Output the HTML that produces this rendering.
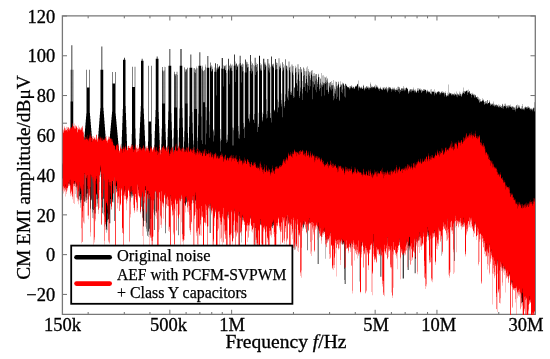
<!DOCTYPE html>
<html><head><meta charset="utf-8"><style>html,body{margin:0;padding:0;background:#fff;overflow:hidden}svg{display:block;filter:blur(0.3px)}</style></head>
<body><svg width="550" height="359" viewBox="0 0 550 359">
<rect width="550" height="359" fill="#fff"/>
<path d="M62.5 294.41h4.5M535.0 294.41h-4.5M62.5 254.64h4.5M535.0 254.64h-4.5M62.5 214.87h4.5M535.0 214.87h-4.5M62.5 175.09h4.5M535.0 175.09h-4.5M62.5 135.32h4.5M535.0 135.32h-4.5M62.5 95.55h4.5M535.0 95.55h-4.5M62.5 55.77h4.5M535.0 55.77h-4.5M62.5 16.00h4.5M535.0 16.00h-4.5M169.85 314.3v-4.5M169.85 16.0v4.5M231.65 314.3v-4.5M231.65 16.0v4.5M375.15 314.3v-4.5M375.15 16.0v4.5M436.95 314.3v-4.5M436.95 16.0v4.5M88.15 314.3v-2.3M88.15 16.0v2.3M124.30 314.3v-2.3M124.30 16.0v2.3M149.95 314.3v-2.3M149.95 16.0v2.3M186.10 314.3v-2.3M186.10 16.0v2.3M199.85 314.3v-2.3M199.85 16.0v2.3M211.75 314.3v-2.3M211.75 16.0v2.3M222.25 314.3v-2.3M222.25 16.0v2.3M293.45 314.3v-2.3M293.45 16.0v2.3M329.60 314.3v-2.3M329.60 16.0v2.3M355.25 314.3v-2.3M355.25 16.0v2.3M391.40 314.3v-2.3M391.40 16.0v2.3M405.15 314.3v-2.3M405.15 16.0v2.3M417.05 314.3v-2.3M417.05 16.0v2.3M427.55 314.3v-2.3M427.55 16.0v2.3M498.75 314.3v-2.3M498.75 16.0v2.3" stroke="#707070" stroke-width="1" fill="none"/>
<path d="M62.5 123.2h4.5" stroke="#707070" stroke-width="1"/>
<clipPath id="c"><rect x="62.5" y="16.0" width="473.0" height="298.90000000000003"/></clipPath>
<path d="M62.4 314.4V15.8H535.3V314.4Z" stroke="#777" stroke-width="1.3" fill="none"/>
<g clip-path="url(#c)">
<path d="M62.50 164.4H62.75V163.3H63.00V165.9H63.25V165.0H63.50V160.6H63.75V164.5H64.00V163.5H64.25V165.9H64.50V164.4H64.75V163.8H65.00V164.8H65.25V164.7H65.50V165.8H65.75V164.9H66.00V162.7H66.25V165.3H66.50V166.5H66.75V164.4H67.00V163.6H67.25V166.0H67.50V164.7H67.75V164.0H68.00V167.5H68.25V167.0H68.50V167.9H68.75V166.6H69.00V166.5H69.25V167.2H69.50V165.5H69.75V165.1H70.00V161.4H70.25V131.6H70.50V69.7H70.75V101.5H71.00V69.7H71.25V101.5H71.50V45.2H71.75H72.00H72.25V101.5H72.50V69.7H72.75V101.5H73.00V69.7H73.25V127.1H73.50V156.9H73.75V165.7H74.00V163.2H74.25V162.9H74.50V164.6H74.75V163.3H75.00V162.7H75.25V161.9H75.50V163.0H75.75V163.7H76.00V165.1H76.25V162.5H76.50V165.7H76.75V164.9H77.00V163.8H77.25V163.2H77.50V162.8H77.75V163.7H78.00V164.3H78.25V163.8H78.50V165.7H78.75V162.8H79.00V161.5H79.25V163.6H79.50V163.1H79.75V162.5H80.00V162.9H80.25V163.9H80.50V161.8H80.75V161.5H81.00V164.0H81.25V164.4H81.50V162.8H81.75V164.9H82.00V163.1H82.25V161.3H82.50V158.3H82.75V155.3H83.00V152.3H83.25V149.3H83.50V146.4H83.75V143.4H84.00V140.4H84.25V137.4H84.50V134.4H84.75V131.4H85.00V128.5H85.25V125.5H85.50V122.5H85.75V119.5H86.00V116.5H86.25V113.5H86.50V69.7H86.75H87.00V87.6H87.25H87.50H87.75H88.00H88.25H88.50H88.75H89.00H89.25V69.7H89.50H89.75V112.9H90.00V115.9H90.25V118.9H90.50V121.9H90.75V124.9H91.00V127.9H91.25V130.8H91.50V133.8H91.75V136.8H92.00V139.8H92.25V142.8H92.50V145.8H92.75V148.7H93.00V151.7H93.25V154.7H93.50V157.7H93.75V160.7H94.00V162.5H94.25V163.5H94.50V165.1H94.75V165.6H95.00V164.3H95.25V162.8H95.50V163.7H95.75V162.1H96.00V161.8H96.25V160.0H96.50V156.8H96.75V153.6H97.00V150.3H97.25V147.1H97.50V143.9H97.75V140.6H98.00V137.4H98.25V134.2H98.50V130.9H98.75V127.7H99.00V124.5H99.25V121.2H99.50V118.0H99.75V114.8H100.00V111.6H100.25V108.3H100.50V69.7H100.75H101.00H101.25H101.50V46.4H101.75H102.00H102.25V69.7H102.50H102.75H103.00H103.25V107.8H103.50V111.1H103.75V114.3H104.00V117.5H104.25V120.8H104.50V124.0H104.75V127.2H105.00V130.5H105.25V133.7H105.50V136.9H105.75V140.1H106.00V143.4H106.25V146.6H106.50V149.8H106.75V153.1H107.00V156.3H107.25V159.5H107.50V161.0H107.75V158.3H108.00V155.5H108.25V152.8H108.50V150.1H108.75V147.3H109.00V144.6H109.25V141.9H109.50V139.1H109.75V136.4H110.00V133.7H110.25V130.9H110.50V128.2H110.75V125.4H111.00V122.7H111.25V120.0H111.50V117.2H111.75V114.5H112.00V111.8H112.25V72.1H112.50H112.75V83.6H113.00H113.25H113.50H113.75H114.00H114.25H114.50H114.75H115.00V72.1H115.25H115.50V113.4H115.75V116.2H116.00V118.9H116.25V121.6H116.50V124.4H116.75V127.1H117.00V129.8H117.25V132.6H117.50V135.3H117.75V138.0H118.00V140.8H118.25V143.5H118.50V146.2H118.75V149.0H119.00V151.7H119.25V154.4H119.50V157.2H119.75V159.9H120.00V160.6H120.25V160.3H120.50V160.5H120.75V162.2H121.00V157.7H121.25V150.8H121.50V143.8H121.75V136.8H122.00V129.9H122.25V122.9H122.50V116.0H122.75V109.0H123.00V59.8H123.25H123.50H123.75H124.00V57.8H124.25H124.50H124.75V59.8H125.00H125.25H125.50V106.1H125.75V113.1H126.00V120.1H126.25V127.0H126.50V134.0H126.75V140.9H127.00V147.9H127.25V154.9H127.50V159.2H127.75V161.1H128.00V162.4H128.25V159.5H128.50V161.8H128.75V161.1H129.00V157.8H129.25V161.5H129.50H129.75V160.5H130.00V163.2H130.25V162.9H130.50V161.1H130.75V160.6H131.00V160.4H131.25V154.0H131.50V144.1H131.75V134.1H132.00V66.7H132.25H132.50V87.0H132.75H133.00H133.25H133.50H133.75H134.00H134.25H134.50H134.75V66.7H135.00H135.25V128.5H135.50V138.5H135.75V148.4H136.00V158.4H136.25V163.5H136.50V161.5H136.75V161.4H137.00V160.7H137.25V161.1H137.50V160.8H137.75V156.7H138.00V158.4H138.25V160.6H138.50V155.1H138.75V149.6H139.00V144.2H139.25V138.7H139.50V133.2H139.75V127.8H140.00V122.3H140.25V116.8H140.50V111.4H140.75V105.9H141.00V60.7H141.25H141.50H141.75V58.8H142.00H142.25H142.50V60.7H142.75H143.00H143.25H143.50V108.4H143.75V113.8H144.00V119.3H144.25V124.8H144.50V130.2H144.75V135.7H145.00V141.2H145.25V146.7H145.50V152.1H145.75V157.6H146.00V160.7H146.25V158.1H146.50V157.5H146.75V160.4H147.00V158.4H147.25V159.0H147.50V159.7H147.75V154.0H148.00V141.6H148.25V65.7H148.50H148.75V121.4H149.00H149.25H149.50H149.75H150.00H150.25H150.50H150.75H151.00V65.7H151.25H151.50V134.0H151.75V146.4H152.00V158.9H152.25V160.2H152.50V157.6H152.75V157.8H153.00V159.4H153.25V157.4H153.50V161.7H153.75V158.7H154.00V151.8H154.25V144.8H154.50V137.9H154.75V130.9H155.00V123.9H155.25V117.0H155.50V110.0H155.75V58.8H156.00H156.25H156.50H156.75V56.6H157.00H157.25H157.50V58.8H157.75H158.00H158.25H158.50V112.1H158.75V119.1H159.00V126.0H159.25V133.0H159.50V139.9H159.75V146.9H160.00V153.9H160.25V158.3H160.50V160.9H160.75V159.0H161.00V152.3H161.25V144.3H161.50V136.4H161.75V128.4H162.00V66.9H162.25H162.50V103.5H162.75V70.6H163.00V103.5H163.25V71.5H163.50V103.5H163.75V70.4H164.00V103.5H164.25V70.6H164.50V103.5H164.75V66.8H165.00V66.9H165.25V123.9H165.50V131.9H165.75V139.8H166.00V147.8H166.25V155.7H166.50V157.7H166.75V160.5H167.00V154.0H167.25V145.4H167.50V136.9H167.75V128.4H168.00V119.9H168.25V111.4H168.50V65.7H168.75H169.00H169.25H169.50V49.0H169.75H170.00H170.25V65.7H170.50H170.75H171.00H171.25V113.3H171.50V121.8H171.75V130.3H172.00V138.8H172.25V147.4H172.50V155.9H172.75V157.3H173.00V155.5H173.25V146.4H173.50V137.4H173.75V128.3H174.00V71.7H174.25H174.50V107.5H174.75V74.3H175.00V107.5H175.25V75.8H175.50V74.2H175.75H176.00V107.5H176.25V73.9H176.50V107.5H176.75V71.7H177.00H177.25V130.0H177.50V74.9H177.75V148.2H178.00V156.6H178.25V156.9H178.50V147.3H178.75V137.6H179.00V128.0H179.25V118.3H179.50V108.6H179.75V65.7H180.00H180.25H180.50V49.0H180.75H181.00H181.25H181.50V65.7H181.75H182.00H182.25V108.1H182.50V117.8H182.75V127.5H183.00V137.1H183.25V146.8H183.50V156.4H183.75V151.6H184.00V141.4H184.25V131.2H184.50V67.7H184.75V67.1H185.00V103.5H185.25V72.0H185.50V68.9H185.75V70.6H186.00V103.5H186.25V70.3H186.50V69.0H186.75V69.3H187.00V103.5H187.25V67.7H187.50H187.75V133.0H188.00V143.2H188.25V153.4H188.50V148.6H188.75V137.8H189.00V127.0H189.25V116.2H189.50V67.7H189.75H190.00H190.25H190.50V54.6H190.75H191.00H191.25V67.7H191.50H191.75H192.00H192.25V112.0H192.50V122.8H192.75V133.6H193.00V144.4H193.25V151.9H193.50V140.6H193.75V68.2H194.00H194.25V67.9H194.50V109.0H194.75V72.2H195.00V109.0H195.25V70.1H195.50V68.9H195.75V73.0H196.00V109.0H196.25V66.4H196.50V109.0H196.75V68.2H197.00H197.25V140.9H197.50V149.5H197.75V137.6H198.00V125.6H198.25V113.7H198.50V65.7H198.75H199.00H199.25H199.50V52.2H199.75H200.00H200.25V65.7H200.50H200.75H201.00H201.25V116.4H201.50V68.4H201.75V140.2H202.00V144.0H202.25V66.8H202.50V65.6H202.75V70.2H203.00V102.3H203.25V71.3H203.50V102.3H203.75V70.7H204.00V102.3H204.25V70.3H204.50V102.3H204.75V69.7H205.00V107.0H205.25V66.8H205.50V64.6H205.75V144.5H206.00V133.4H206.25V120.3H206.50V107.2H206.75V67.7H207.00H207.25H207.50V56.0H207.75H208.00H208.25V67.7H208.50H208.75H209.00H209.25V111.6H209.50V124.7H209.75V137.7H210.00V62.5H210.25H210.50V67.8H210.75V66.3H211.00V71.6H211.25V65.0H211.50V71.3H211.75V66.6H212.00V70.6H212.25V68.8H212.50V69.1H212.75V66.5H213.00V131.6H213.25V130.2H213.50V129.2H213.75V141.4H214.00V135.4H214.25V71.7H214.50V67.5H214.75V71.7H215.00V63.3H215.25H215.50H215.75V71.7H216.00V69.4H216.25V71.7H216.50V67.7H216.75V95.5H217.00V69.6H217.25V64.1H217.50H217.75V67.8H218.00V66.7H218.25V69.1H218.50V67.9H218.75V66.9H219.00V65.5H219.25V66.0H219.50V65.8H219.75V66.9H220.00V129.1H220.25V151.4H220.50V141.3H220.75V138.6H221.00V140.1H221.25V69.0H221.50V67.9H221.75V58.0H222.00H222.25H222.50H222.75V69.0H223.00V65.3H223.25V69.0H223.50V68.4H223.75V86.6H224.00V65.7H224.25V65.7H224.50V66.5H224.75V68.6H225.00V65.9H225.25V70.1H225.50V65.0H225.75V70.3H226.00V64.6H226.25V73.0H226.50V143.0H226.75V139.5H227.00V141.8H227.25V134.7H227.50V139.8H227.75V70.5H228.00V69.2H228.25V58.8H228.50H228.75H229.00V65.4H229.25V70.5H229.50V65.8H229.75V84.2H230.00V63.4H230.25V67.4H230.50V64.6H230.75V68.6H231.00V65.9H231.25V67.8H231.50V64.7H231.75V70.7H232.00V64.5H232.25V71.0H232.50V127.5H232.75V145.4H233.00H233.25V127.7H233.50V130.2H233.75V65.7H234.00H234.25V54.6H234.50H234.75H235.00V64.4H235.25V65.7H235.50V61.4H235.75V82.0H236.00V63.4H236.25H236.50V63.8H236.75V69.8H237.00V66.2H237.25V66.9H237.50V66.3H237.75V65.0H238.00V64.5H238.25V131.2H238.50V138.3H238.75V126.0H239.00V138.7H239.25V134.4H239.50V63.4H239.75V55.8H240.00H240.25H240.50V63.0H240.75V65.8H241.00V64.6H241.25V82.5H241.50V65.1H241.75V66.5H242.00V64.2H242.25V66.9H242.50V63.3H242.75V71.6H243.00V64.2H243.25V71.1H243.50V129.0H243.75V122.9H244.00V126.7H244.25V138.1H244.50V127.6H244.75V72.5H245.00V59.4H245.25H245.50H245.75V72.5H246.00V61.4H246.25V72.5H246.50V62.3H246.75V64.4H247.00V61.9H247.25V67.4H247.50V63.7H247.75V67.4H248.00V64.1H248.25V67.1H248.50V119.1H248.75V118.2H249.00V120.8H249.25V114.3H249.50V122.6H249.75V71.0H250.00V55.0H250.25H250.50H250.75V71.0H251.00V65.0H251.25V73.5H251.50V61.4H251.75V68.6H252.00V63.7H252.25V71.5H252.50V63.0H252.75V70.8H253.00V65.0H253.25V119.6H253.50V119.8H253.75V119.8H254.00V123.1H254.25V113.9H254.50V66.3H254.75V57.8H255.00H255.25H255.50V64.9H255.75V74.9H256.00V62.7H256.25V66.9H256.50V65.0H256.75V72.0H257.00V64.1H257.25V70.7H257.50V63.9H257.75V132.0H258.00V127.1H258.25V112.8H258.50V123.8H258.75V126.9H259.00V55.8H259.25H259.50H259.75H260.00V63.0H260.25V70.6H260.50V65.3H260.75V68.5H261.00V64.1H261.25V70.3H261.50V65.2H261.75V70.7H262.00V117.3H262.25V120.3H262.50V112.6H262.75V121.6H263.00V114.0H263.25V58.8H263.50H263.75H264.00H264.25V69.8H264.50V64.3H264.75V62.5H265.00H265.25V64.6H265.50V64.8H265.75V66.8H266.00V65.7H266.25V114.3H266.50V99.2H266.75V118.4H267.00V117.8H267.25V111.1H267.50V59.0H267.75H268.00H268.25V70.5H268.50V63.5H268.75V67.5H269.00V63.5H269.25V68.4H269.50V65.2H269.75V72.6H270.00V66.7H270.25V117.7H270.50V118.0H270.75V112.9H271.00V122.4H271.25V56.5H271.50H271.75H272.00V64.2H272.25V65.7H272.50V64.4H272.75V66.5H273.00V64.2H273.25V68.1H273.50V63.4H273.75V66.8H274.00V110.2H274.25V109.6H274.50V111.4H274.75V110.4H275.00V59.0H275.25H275.50H275.75V69.7H276.00V62.9H276.25V65.0H276.50V62.2H276.75V69.2H277.00V62.9H277.25V69.1H277.50V99.6H277.75V112.3H278.00V101.8H278.25V107.4H278.50V107.4H278.75V58.2H279.00H279.25V69.6H279.50V65.8H279.75V66.9H280.00V65.4H280.25V68.3H280.50V63.5H280.75V67.8H281.00V93.5H281.25V103.8H281.50V106.5H281.75V99.9H282.00V117.3H282.25V62.2H282.50H282.75V71.3H283.00V67.5H283.25H283.50V64.0H283.75V69.8H284.00V65.6H284.25V106.0H284.50V102.0H284.75V107.8H285.00V94.3H285.25V100.9H285.50V59.2H285.75H286.00V65.3H286.25V65.9H286.50V65.7H286.75V68.8H287.00V66.6H287.25V70.6H287.50V96.7H287.75V98.5H288.00V100.3H288.25V88.4H288.50V90.9H288.75V61.4H289.00H289.25V70.2H289.50V67.3H289.75V67.8H290.00V66.6H290.25V72.2H290.50V94.8H290.75V91.9H291.00V91.2H291.25V95.1H291.50V93.1H291.75V64.5H292.00H292.25V71.4H292.50V66.3H292.75V73.2H293.00V66.1H293.25V75.0H293.50V98.0H293.75V96.1H294.00V97.2H294.25V87.5H294.50V87.7H294.75V87.2H295.00V65.8H295.25V67.7H295.50V68.5H295.75V72.8H296.00V67.2H296.25V72.0H296.50V83.0H296.75V83.5H297.00V85.5H297.25V90.9H297.50V79.6H297.75V64.2H298.00H298.25V72.2H298.50V68.7H298.75V74.4H299.00V69.1H299.25V98.1H299.50V96.1H299.75V81.0H300.00V87.6H300.25V91.6H300.50V66.9H300.75H301.00V68.7H301.25V72.3H301.50V69.4H301.75V72.6H302.00V89.0H302.25V93.5H302.50V100.0H302.75V80.9H303.00V87.2H303.25V67.5H303.50H303.75V76.1H304.00V71.0H304.25V75.1H304.50V68.8H304.75V87.0H305.00V83.5H305.25V90.9H305.50V83.0H305.75V71.3H306.00V71.2H306.25V75.9H306.50V67.5H306.75V79.0H307.00V66.3H307.25V82.6H307.50V84.9H307.75V92.6H308.00V85.9H308.25V74.6H308.50V69.1H308.75V70.9H309.00V72.5H309.25V76.1H309.50V71.7H309.75V89.7H310.00V86.2H310.25V80.0H310.50V78.2H310.75V71.7H311.00V70.3H311.25V74.9H311.50V71.1H311.75V73.6H312.00V69.9H312.25V99.3H312.50V81.3H312.75V76.3H313.00V87.2H313.25V76.1H313.50V73.5H313.75V81.7H314.00V72.9H314.25V76.0H314.50V84.1H314.75V84.7H315.00V80.7H315.25V89.8H315.50V75.6H315.75V74.0H316.00V74.2H316.25V78.7H316.50V74.0H316.75V92.2H317.00V80.0H317.25V87.0H317.50V82.1H317.75V84.1H318.00V74.5H318.25V77.6H318.50V73.8H318.75V77.0H319.00V77.1H319.25V84.5H319.50V88.9H319.75V90.8H320.00V87.9H320.25V78.7H320.50V78.4H320.75V82.8H321.00V73.1H321.25V84.3H321.50V85.5H321.75V96.3H322.00V81.7H322.25V87.0H322.50V75.6H322.75V85.2H323.00V75.3H323.25V83.6H323.50V82.8H323.75V85.2H324.00V83.5H324.25V95.4H324.50V76.7H324.75V82.9H325.00V77.9H325.25V81.9H325.50V77.1H325.75V84.1H326.00V90.1H326.25V82.9H326.50V76.6H326.75V80.3H327.00V77.9H327.25V81.8H327.50V79.3H327.75V89.8H328.00V94.1H328.25V92.2H328.50V91.7H328.75V82.8H329.00V82.6H329.25V83.2H329.50V87.6H329.75V85.7H330.00V89.4H330.25V82.0H330.50V87.3H330.75V82.0H331.00V81.0H331.25V84.7H331.50V85.6H331.75V90.5H332.00V88.8H332.25V85.5H332.50V85.1H332.75V83.0H333.00V79.9H333.25V85.0H333.50V96.0H333.75V100.2H334.00V93.2H334.25V98.6H334.50V88.5H334.75V86.5H335.00V81.4H335.25V89.0H335.50V90.8H335.75V93.7H336.00V81.9H336.25V99.1H336.50V81.8H336.75V86.2H337.00V85.9H337.25V87.8H337.50V84.7H337.75V96.7H338.00V81.6H338.25V84.5H338.50V82.2H338.75V84.2H339.00V99.7H339.25V86.9H339.50V88.2H339.75V101.1H340.00V84.4H340.25V86.6H340.50V81.3H340.75V87.1H341.00V92.1H341.25V85.1H341.50V84.1H341.75V85.5H342.00V82.5H342.25V89.5H342.50V83.8H342.75V93.3H343.00V84.5H343.25V83.2H343.50V84.3H343.75V83.2H344.00V85.2H344.25V88.4H344.50V86.1H344.75V96.4H345.00V97.6H345.25V84.0H345.50V83.4H345.75V84.0H346.00V84.4H346.25V85.7H346.50H346.75H347.00V86.7H347.25V87.1H347.50V86.5H347.75V87.4H348.00H348.25V87.0H348.50V87.6H348.75V87.2H349.00V86.2H349.25V87.9H349.50V89.6H349.75V88.6H350.00V88.5H350.25V86.0H350.50V87.5H350.75V86.2H351.00V87.1H351.25V85.2H351.50V85.8H351.75V87.6H352.00V87.9H352.25V88.5H352.50V86.4H352.75V87.8H353.00V88.4H353.25V86.5H353.50V86.9H353.75V87.0H354.00V87.6H354.25V89.0H354.50V88.8H354.75V87.8H355.00V87.1H355.25V86.8H355.50V86.0H355.75V85.8H356.00V85.7H356.25V85.6H356.50V86.5H356.75V86.4H357.00V84.6H357.25V83.8H357.50V84.0H357.75V84.5H358.00V88.2H358.25V90.5H358.50V80.5H358.75V86.5H359.00V86.4H359.25V86.5H359.50V86.8H359.75V88.0H360.00V88.7H360.25V87.0H360.50V88.2H360.75V87.9H361.00V87.1H361.25V88.6H361.50V87.9H361.75V86.5H362.00V87.4H362.25V89.0H362.50H362.75V88.6H363.00V85.6H363.25V84.7H363.50V86.1H363.75V88.3H364.00V88.4H364.25V90.4H364.50V89.4H364.75V87.4H365.00V89.0H365.25V87.6H365.50V88.1H365.75V87.2H366.00V87.3H366.25V86.3H366.50V85.9H366.75V88.9H367.00V88.1H367.25V86.3H367.50V87.2H367.75V87.8H368.00V87.5H368.25V89.5H368.50V88.2H368.75V86.5H369.00V89.5H369.25V87.4H369.50V87.8H369.75V87.4H370.00V88.2H370.25V87.9H370.50V83.9H370.75V82.6H371.00V85.6H371.25V86.9H371.50V88.3H371.75V86.9H372.00V86.3H372.25V88.2H372.50V87.2H372.75V86.7H373.00V87.3H373.25V87.4H373.50V87.2H373.75V86.7H374.00V86.7H374.25V85.8H374.50V86.3H374.75V87.7H375.00V88.7H375.25V88.2H375.50V87.2H375.75V84.6H376.00V86.0H376.25V87.6H376.50V87.0H376.75V84.9H377.00V85.8H377.25V87.4H377.50V87.6H377.75V87.3H378.00V87.4H378.25V89.4H378.50V88.9H378.75V88.3H379.00V90.9H379.25V88.4H379.50V89.0H379.75V88.3H380.00V87.8H380.25V88.3H380.50V88.9H380.75V86.8H381.00V88.8H381.25V89.1H381.50V89.6H381.75V89.8H382.00V90.2H382.25V89.5H382.50V89.8H382.75V87.6H383.00V87.1H383.25V88.3H383.50V88.8H383.75V87.9H384.00V86.9H384.25V89.7H384.50V88.7H384.75V89.8H385.00V88.2H385.25V87.5H385.50V88.5H385.75V89.2H386.00V86.7H386.25V87.3H386.50V88.8H386.75V90.3H387.00V91.4H387.25V92.5H387.50V89.3H387.75V88.1H388.00V90.6H388.25V88.6H388.50V87.7H388.75V86.7H389.00V87.1H389.25V87.6H389.50V87.5H389.75V89.3H390.00V88.9H390.25V87.4H390.50V88.2H390.75V87.5H391.00V89.1H391.25V88.7H391.50V89.7H391.75V91.7H392.00V90.3H392.25V89.1H392.50V88.7H392.75V87.5H393.00V87.7H393.25V88.8H393.50V90.2H393.75V89.3H394.00V89.3H394.25V88.5H394.50V87.5H394.75V90.6H395.00V89.8H395.25V89.4H395.50V89.7H395.75V91.9H396.00V88.1H396.25V89.9H396.50V90.2H396.75V89.5H397.00V90.3H397.25V90.6H397.50V89.2H397.75V86.7H398.00V86.5H398.25V87.1H398.50V89.0H398.75V92.0H399.00V93.5H399.25V87.3H399.50V87.6H399.75V89.1H400.00V92.0H400.25V89.9H400.50V90.1H400.75V89.5H401.00V90.9H401.25V89.0H401.50V88.1H401.75V88.3H402.00V88.5H402.25V90.9H402.50V89.2H402.75V87.9H403.00V89.1H403.25V86.1H403.50V87.7H403.75V90.5H404.00V89.5H404.25V87.8H404.50V91.3H404.75V89.8H405.00V90.6H405.25V88.0H405.50V89.7H405.75V88.5H406.00V87.4H406.25H406.50V87.9H406.75V88.2H407.00V88.6H407.25V89.1H407.50V88.4H407.75V89.5H408.00V91.4H408.25V93.5H408.50H408.75V91.3H409.00V91.0H409.25V92.5H409.50V90.5H409.75V89.5H410.00H410.25V91.8H410.50V89.2H410.75H411.00V90.8H411.25V92.2H411.50V89.2H411.75V89.2H412.00V90.2H412.25V89.1H412.50V90.5H412.75V91.0H413.00V90.7H413.25V89.1H413.50V87.4H413.75V90.5H414.00V90.9H414.25V89.7H414.50V92.6H414.75V90.3H415.00V92.3H415.25V90.8H415.50V89.3H415.75V90.8H416.00V93.0H416.25V92.5H416.50V92.0H416.75V91.4H417.00V90.7H417.25V88.0H417.50V90.9H417.75V89.5H418.00V88.1H418.25V91.0H418.50V92.8H418.75V90.3H419.00V89.5H419.25V88.9H419.50V89.9H419.75V88.6H420.00H420.25V89.7H420.50V89.9H420.75V90.9H421.00V89.5H421.25H421.50V93.0H421.75V92.3H422.00V89.9H422.25V90.6H422.50V91.3H422.75V91.5H423.00V89.1H423.25V91.1H423.50H423.75V89.4H424.00V89.0H424.25V90.6H424.50V89.5H424.75V90.7H425.00V90.1H425.25V89.6H425.50V89.8H425.75V90.1H426.00V90.6H426.25V93.4H426.50V92.4H426.75V91.3H427.00V89.8H427.25V90.5H427.50V91.3H427.75V91.7H428.00V91.2H428.25V92.4H428.50V91.9H428.75V91.2H429.00V91.8H429.25V91.2H429.50V92.2H429.75V92.3H430.00V94.0H430.25V93.4H430.50V92.9H430.75V89.4H431.00V88.9H431.25V91.5H431.50V93.8H431.75V94.5H432.00V91.6H432.25V91.4H432.50V91.7H432.75V91.8H433.00H433.25V91.7H433.50V90.7H433.75V91.9H434.00V91.9H434.25V93.8H434.50V89.2H434.75V95.5H435.00V93.0H435.25V93.3H435.50V91.5H435.75V92.6H436.00V93.9H436.25V94.6H436.50V92.2H436.75V93.1H437.00V92.2H437.25V91.4H437.50V92.5H437.75V92.0H438.00V92.3H438.25V91.8H438.50V91.1H438.75V91.3H439.00V91.7H439.25V92.2H439.50V91.6H439.75V94.5H440.00V93.1H440.25V92.6H440.50V94.5H440.75V93.3H441.00V92.2H441.25V91.5H441.50V93.3H441.75V91.8H442.00V93.0H442.25V93.3H442.50V92.5H442.75V91.1H443.00V92.2H443.25V92.9H443.50V93.3H443.75V91.7H444.00V94.3H444.25V96.4H444.50V93.0H444.75V92.3H445.00V93.0H445.25V94.7H445.50V92.9H445.75V91.2H446.00V96.4H446.25V96.8H446.50V95.6H446.75V95.3H447.00H447.25V95.7H447.50H447.75V92.7H448.00V93.9H448.25V84.5H448.50V94.7H448.75V96.3H449.00V93.6H449.25V92.3H449.50V94.4H449.75V93.1H450.00V93.6H450.25V93.4H450.50V93.0H450.75V93.5H451.00V95.1H451.25V93.1H451.50V94.0H451.75V95.4H452.00V95.3H452.25V94.1H452.50V94.3H452.75V93.6H453.00V93.8H453.25V95.3H453.50V94.4H453.75V94.0H454.00V95.6H454.25V93.8H454.50V95.4H454.75V92.8H455.00V94.2H455.25V93.9H455.50V95.1H455.75V93.8H456.00V95.1H456.25V96.5H456.50V94.4H456.75V91.5H457.00V92.9H457.25V93.9H457.50V94.6H457.75V97.2H458.00V94.8H458.25V95.4H458.50V94.1H458.75V94.5H459.00V95.4H459.25V93.5H459.50V91.6H459.75V95.8H460.00V93.9H460.25V92.5H460.50V93.9H460.75V95.7H461.00V95.4H461.25V96.9H461.50V95.7H461.75V93.7H462.00V93.6H462.25V91.8H462.50V94.4H462.75V93.6H463.00V93.1H463.25V93.0H463.50V91.2H463.75V87.6H464.00V93.5H464.25V93.9H464.50V91.0H464.75V91.6H465.00V91.7H465.25V91.4H465.50V91.8H465.75V91.1H466.00V91.0H466.25V90.2H466.50V91.0H466.75V90.7H467.00V91.3H467.25V90.1H467.50V92.7H467.75V95.1H468.00V93.0H468.25V89.6H468.50V92.0H468.75V92.1H469.00V91.2H469.25V90.9H469.50V93.4H469.75V91.4H470.00V93.9H470.25V93.7H470.50V93.4H470.75H471.00V95.1H471.25V93.1H471.50V94.8H471.75V97.5H472.00V94.6H472.25V92.8H472.50V94.0H472.75V94.7H473.00V95.2H473.25V94.7H473.50V93.8H473.75V95.6H474.00V96.7H474.25V97.9H474.50V94.2H474.75V94.8H475.00V95.1H475.25V97.4H475.50V95.8H475.75V94.8H476.00V97.6H476.25V97.0H476.50V96.9H476.75V97.4H477.00V96.6H477.25V96.7H477.50V98.8H477.75V99.0H478.00V100.5H478.25V98.7H478.50V97.1H478.75V99.7H479.00V98.6H479.25V102.5H479.50H479.75V99.6H480.00V99.1H480.25V101.0H480.50V101.7H480.75V101.8H481.00V100.9H481.25V102.0H481.50V101.5H481.75V101.3H482.00V101.0H482.25V100.3H482.50V98.2H482.75V100.6H483.00V100.2H483.25V99.3H483.50V100.4H483.75V101.6H484.00V102.0H484.25V101.7H484.50V104.0H484.75V105.1H485.00V103.2H485.25V101.6H485.50V103.9H485.75V101.1H486.00V104.0H486.25V103.0H486.50V100.9H486.75V102.8H487.00V103.8H487.25V104.2H487.50V100.1H487.75H488.00V103.0H488.25V103.1H488.50H488.75V103.3H489.00V100.3H489.25V102.1H489.50V101.4H489.75V102.7H490.00V103.1H490.25V103.9H490.50V106.0H490.75V104.8H491.00V104.6H491.25V104.7H491.50V104.5H491.75V103.6H492.00V104.3H492.25V103.6H492.50V105.5H492.75V103.8H493.00V101.6H493.25V103.5H493.50V105.9H493.75V104.9H494.00V106.2H494.25V104.1H494.50V105.0H494.75V106.4H495.00V104.5H495.25V105.2H495.50V106.2H495.75V105.1H496.00V104.9H496.25V106.7H496.50V104.9H496.75V103.9H497.00V106.6H497.25V105.6H497.50V105.2H497.75H498.00V107.1H498.25V104.3H498.50V107.6H498.75V106.2H499.00V106.1H499.25V107.5H499.50V106.2H499.75V104.8H500.00V105.1H500.25V107.1H500.50V106.6H500.75V107.3H501.00V105.9H501.25V106.3H501.50V107.9H501.75V107.7H502.00V108.3H502.25V103.7H502.50V104.1H502.75V105.3H503.00V105.6H503.25V106.3H503.50V107.0H503.75V108.8H504.00V106.1H504.25V103.7H504.50V106.3H504.75V105.9H505.00V104.4H505.25V103.4H505.50V106.0H505.75V107.1H506.00V105.9H506.25V108.3H506.50V108.2H506.75V105.5H507.00V105.6H507.25V107.7H507.50V105.8H507.75V106.7H508.00V105.5H508.25V105.2H508.50V107.3H508.75V108.3H509.00V107.2H509.25V105.2H509.50V105.4H509.75V106.3H510.00V106.7H510.25V106.5H510.50V104.4H510.75V107.1H511.00V107.9H511.25V106.0H511.50V107.4H511.75V107.0H512.00V107.1H512.25V106.3H512.50V106.2H512.75V109.8H513.00V109.9H513.25V107.8H513.50V106.5H513.75V107.0H514.00V108.2H514.25V107.3H514.50V107.4H514.75V109.9H515.00V111.5H515.25V109.4H515.50V108.6H515.75V106.4H516.00V106.5H516.25V105.1H516.50V108.7H516.75V105.3H517.00V104.5H517.25V108.3H517.50V108.2H517.75V108.7H518.00V107.4H518.25V107.8H518.50V106.3H518.75V104.9H519.00V105.6H519.25V106.7H519.50V107.6H519.75V108.0H520.00V109.0H520.25V108.7H520.50V108.2H520.75V108.2H521.00V109.6H521.25V106.3H521.50V108.6H521.75V108.3H522.00V106.0H522.25V109.6H522.50V109.0H522.75V104.1H523.00V108.3H523.25V109.7H523.50V108.6H523.75V109.3H524.00V107.7H524.25V107.3H524.50V109.0H524.75V110.2H525.00V106.8H525.25V107.4H525.50V107.8H525.75V106.5H526.00V107.3H526.25V107.6H526.50V106.9H526.75V108.7H527.00V108.1H527.25V106.6H527.50V106.8H527.75V108.9H528.00V107.9H528.25V106.0H528.50V108.0H528.75V107.1H529.00V106.9H529.25V109.4H529.50V108.3H529.75V107.7H530.00V108.8H530.25V108.6H530.50V108.7H530.75V110.4H531.00V109.9H531.25V109.1H531.50V108.0H531.75V109.3H532.00V111.2H532.25V109.8H532.50V108.6H532.75V109.3H533.00V107.9H533.25V107.2H533.50V108.1H533.75V109.3H534.00V102.2H534.25V107.8H534.50V111.6H534.75V111.2H535.00V298.6H534.75V296.0H534.50V297.0H534.25V296.5H534.00V302.5H533.75V305.6H533.50V302.4H533.25V302.3H533.00V301.2H532.75V301.9H532.50V299.5H532.25V302.7H532.00V300.8H531.75V300.4H531.50V302.7H531.25H531.00V300.4H530.75V297.7H530.50V298.4H530.25V297.8H530.00V300.0H529.75V301.5H529.50V299.4H529.25V300.6H529.00V297.8H528.75V296.4H528.50H528.25V295.2H528.00V298.9H527.75V296.0H527.50V295.5H527.25V290.4H527.00V286.0H526.75V291.6H526.50V291.6H526.25V296.4H526.00V298.7H525.75V294.9H525.50V295.0H525.25V292.2H525.00V289.2H524.75V290.3H524.50V290.8H524.25V289.5H524.00V290.7H523.75V290.3H523.50V292.1H523.25V299.1H523.00V302.1H522.75V302.0H522.50V305.6H522.25V302.5H522.00V303.6H521.75V303.0H521.50V298.2H521.25V294.6H521.00V288.5H520.75V286.4H520.50V283.1H520.25V281.7H520.00V286.6H519.75V284.7H519.50V284.0H519.25V285.4H519.00V277.8H518.75V281.9H518.50V282.8H518.25V285.4H518.00V286.7H517.75V284.0H517.50V280.0H517.25V273.1H517.00V276.8H516.75V277.3H516.50V282.0H516.25V286.3H516.00V285.8H515.75V284.7H515.50V281.7H515.25V282.2H515.00V282.8H514.75V286.9H514.50V287.0H514.25V286.9H514.00V285.5H513.75V283.4H513.50V286.0H513.25V286.3H513.00V284.7H512.75V282.7H512.50V282.2H512.25V284.7H512.00V283.4H511.75V282.7H511.50V281.8H511.25V271.2H511.00V270.7H510.75V272.5H510.50V271.4H510.25V275.1H510.00V276.1H509.75V273.7H509.50V274.2H509.25V275.2H509.00V269.6H508.75V271.3H508.50V270.3H508.25V268.7H508.00V271.9H507.75V268.5H507.50V265.3H507.25V262.6H507.00V261.3H506.75V258.8H506.50V259.5H506.25V260.0H506.00V261.2H505.75V262.6H505.50V264.4H505.25V268.7H505.00V269.2H504.75V270.8H504.50V268.5H504.25V265.3H504.00V264.2H503.75V265.1H503.50V264.3H503.25V261.8H503.00V267.8H502.75V266.5H502.50V268.4H502.25V270.8H502.00V265.0H501.75V262.4H501.50V262.2H501.25V260.2H501.00V260.9H500.75V259.1H500.50V261.4H500.25V263.2H500.00V262.2H499.75V266.2H499.50V261.1H499.25V261.8H499.00V263.1H498.75V258.9H498.50V260.9H498.25V262.3H498.00V258.3H497.75V263.6H497.50V265.5H497.25V261.2H497.00V265.2H496.75V262.3H496.50V257.4H496.25V255.4H496.00V252.6H495.75V249.7H495.50V250.4H495.25V251.9H495.00V248.9H494.75V250.2H494.50V250.3H494.25V253.3H494.00V253.4H493.75V254.1H493.50V254.1H493.25V249.6H493.00V249.5H492.75V248.4H492.50V250.3H492.25V251.1H492.00V250.8H491.75V252.8H491.50V253.3H491.25V250.6H491.00V251.7H490.75V246.7H490.50V245.5H490.25V244.3H490.00V245.1H489.75V244.9H489.50V243.5H489.25V247.5H489.00V246.9H488.75V249.6H488.50V251.3H488.25V248.4H488.00V250.3H487.75V246.5H487.50V245.1H487.25H487.00V245.0H486.75V250.1H486.50V248.9H486.25V250.9H486.00V246.9H485.75V241.6H485.50V239.7H485.25V234.6H485.00V234.4H484.75V230.5H484.50V230.4H484.25V227.6H484.00V232.2H483.75V236.4H483.50V234.9H483.25V243.5H483.00V235.2H482.75V233.3H482.50V236.1H482.25V230.6H482.00V233.2H481.75V231.8H481.50V227.9H481.25V228.8H481.00V229.1H480.75V231.1H480.50V232.7H480.25V232.4H480.00V231.5H479.75V229.4H479.50V225.6H479.25V225.3H479.00V221.1H478.75V223.7H478.50V225.2H478.25V224.8H478.00V227.9H477.75V226.7H477.50V223.6H477.25V217.7H477.00V223.4H476.75V221.9H476.50V225.3H476.25V231.0H476.00V224.6H475.75V222.5H475.50V222.8H475.25V221.9H475.00V223.0H474.75V225.4H474.50V224.2H474.25V227.8H474.00V226.5H473.75V225.5H473.50V226.7H473.25V222.9H473.00V221.6H472.75V222.0H472.50V216.9H472.25V215.7H472.00V216.6H471.75V216.9H471.50V218.7H471.25V218.3H471.00V216.5H470.75V215.1H470.50V213.9H470.25V217.3H470.00V213.9H469.75V211.8H469.50V213.9H469.25V208.8H469.00V211.1H468.75V211.7H468.50V211.6H468.25V214.3H468.00V217.9H467.75V220.9H467.50V219.3H467.25V215.0H467.00V210.5H466.75V209.8H466.50V212.2H466.25V214.4H466.00V218.1H465.75V216.2H465.50V213.8H465.25V211.8H465.00V212.3H464.75V217.5H464.50V218.8H464.25V221.6H464.00V224.1H463.75V219.2H463.50V222.0H463.25V226.7H463.00V221.4H462.75V223.2H462.50V220.2H462.25V215.5H462.00V216.6H461.75V214.0H461.50V215.4H461.25V214.4H461.00V215.3H460.75V217.3H460.50V213.9H460.25V215.5H460.00V217.7H459.75V219.6H459.50V222.2H459.25V221.8H459.00V219.4H458.75V217.8H458.50V215.1H458.25V215.3H458.00V216.0H457.75V215.3H457.50V218.5H457.25V216.5H457.00V218.6H456.75V216.2H456.50V215.9H456.25V213.5H456.00V212.4H455.75V215.2H455.50V213.8H455.25V218.0H455.00V261.0H454.75H454.50V211.9H454.25V214.0H454.00V215.5H453.75V220.5H453.50V220.1H453.25V218.9H453.00V215.0H452.75V214.1H452.50V217.1H452.25V217.6H452.00V218.5H451.75V215.1H451.50V213.8H451.25V215.3H451.00V218.1H450.75V220.5H450.50V220.9H450.25V219.2H450.00V220.8H449.75V257.6H449.50H449.25H449.00V222.3H448.75V224.7H448.50V220.9H448.25V221.6H448.00V216.7H447.75V218.0H447.50V220.9H447.25V226.4H447.00V225.8H446.75V222.4H446.50V223.7H446.25V219.4H446.00V218.0H445.75V221.6H445.50V218.8H445.25V222.5H445.00V225.7H444.75V224.7H444.50V224.1H444.25V222.0H444.00V220.1H443.75V220.9H443.50V222.4H443.25V221.3H443.00V225.5H442.75V225.9H442.50V224.7H442.25V226.2H442.00V255.7H441.75V222.8H441.50V223.6H441.25V226.2H441.00V228.7H440.75V226.6H440.50V226.4H440.25V223.6H440.00V226.3H439.75V228.0H439.50V229.5H439.25V229.4H439.00V224.0H438.75V226.2H438.50V228.3H438.25V229.6H438.00V233.9H437.75V232.6H437.50V233.7H437.25V234.6H437.00V236.8H436.75V237.1H436.50V231.0H436.25V229.3H436.00V223.8H435.75V223.2H435.50V227.5H435.25V230.1H435.00V233.0H434.75V233.2H434.50V231.4H434.25V231.1H434.00V226.9H433.75V230.0H433.50V230.9H433.25V229.0H433.00V233.4H432.75V226.8H432.50V229.3H432.25V229.1H432.00V228.1H431.75V231.2H431.50V230.5H431.25V228.9H431.00V225.3H430.75V229.4H430.50V230.0H430.25V231.5H430.00V233.9H429.75V231.8H429.50V228.7H429.25V229.8H429.00V232.4H428.75V234.9H428.50V236.4H428.25V240.3H428.00V236.4H427.75V231.8H427.50V232.5H427.25V228.8H427.00V231.0H426.75V234.4H426.50V233.7H426.25V236.9H426.00V233.4H425.75V231.9H425.50V233.5H425.25V231.9H425.00V233.9H424.75V233.9H424.50V233.3H424.25V232.8H424.00V233.6H423.75V231.6H423.50V233.2H423.25V231.2H423.00V232.1H422.75V232.5H422.50V228.6H422.25V232.7H422.00V231.4H421.75V229.7H421.50V232.7H421.25V231.1H421.00V231.4H420.75V236.0H420.50V235.9H420.25V237.5H420.00V239.5H419.75V236.5H419.50V237.0H419.25V233.6H419.00V233.8H418.75V237.4H418.50V240.0H418.25V240.9H418.00V239.8H417.75V238.9H417.50V239.8H417.25V242.2H417.00V242.1H416.75V241.5H416.50V238.7H416.25V232.9H416.00V258.6H415.75H415.50V273.2H415.25H415.00H414.75V233.0H414.50V238.3H414.25V238.8H414.00V241.5H413.75V246.5H413.50V238.9H413.25V237.7H413.00V234.5H412.75V231.2H412.50V236.4H412.25V240.1H412.00V237.5H411.75V235.8H411.50V231.5H411.25V227.5H411.00V234.3H410.75V235.2H410.50V237.1H410.25V243.7H410.00V245.6H409.75V246.4H409.50V250.6H409.25V248.5H409.00V246.1H408.75V245.5H408.50V270.0H408.25H408.00H407.75V231.1H407.50V232.5H407.25V231.5H407.00V235.4H406.75V244.7H406.50V243.2H406.25V242.8H406.00V240.0H405.75V237.1H405.50V239.1H405.25V235.7H405.00V236.8H404.75V235.0H404.50V234.8H404.25V243.2H404.00V244.0H403.75V278.4H403.50H403.25H403.00V239.2H402.75V243.8H402.50V250.5H402.25V278.4H402.00V243.9H401.75V242.1H401.50V239.3H401.25V240.5H401.00V239.0H400.75V238.5H400.50V235.3H400.25V235.7H400.00V239.7H399.75V238.1H399.50V242.2H399.25V245.3H399.00V242.9H398.75V243.1H398.50V244.6H398.25V242.7H398.00V244.6H397.75V243.5H397.50V240.4H397.25V242.4H397.00V239.3H396.75V241.5H396.50V239.0H396.25V236.2H396.00V238.6H395.75V239.3H395.50V241.5H395.25V243.7H395.00V243.4H394.75V241.5H394.50H394.25V239.3H394.00V239.0H393.75V239.3H393.50V241.6H393.25V240.0H393.00V241.4H392.75V244.3H392.50V241.8H392.25V246.6H392.00V245.9H391.75V243.9H391.50V247.7H391.25V245.9H391.00V245.4H390.75V246.9H390.50V246.0H390.25V244.6H390.00V244.8H389.75V245.4H389.50V242.6H389.25V243.6H389.00V240.7H388.75V237.7H388.50V234.9H388.25V235.4H388.00V236.1H387.75V237.9H387.50V242.6H387.25V244.0H387.00V245.2H386.75V244.3H386.50V244.9H386.25V245.1H386.00V245.7H385.75V246.4H385.50V240.1H385.25V239.6H385.00V241.0H384.75V239.2H384.50V243.2H384.25V240.3H384.00V241.0H383.75V244.7H383.50V248.0H383.25V247.5H383.00V247.8H382.75V244.8H382.50V242.5H382.25V241.2H382.00V239.0H381.75V244.0H381.50V242.8H381.25V276.7H381.00H380.75H380.50V240.8H380.25V244.3H380.00V238.7H379.75V241.6H379.50V244.4H379.25V244.7H379.00V244.6H378.75V239.0H378.50V236.3H378.25V236.6H378.00V233.8H377.75V237.9H377.50V241.7H377.25V239.3H377.00V244.9H376.75V243.5H376.50V242.2H376.25V240.9H376.00V240.5H375.75V244.3H375.50V246.0H375.25V250.3H375.00V248.6H374.75V245.6H374.50V240.1H374.25V240.2H374.00V241.3H373.75V242.5H373.50V248.2H373.25V245.9H373.00V244.2H372.75V244.2H372.50V243.1H372.25V240.7H372.00V241.4H371.75V242.3H371.50V239.4H371.25V237.6H371.00V235.6H370.75V238.2H370.50V240.4H370.25V241.6H370.00V243.2H369.75V240.9H369.50V241.1H369.25V237.2H369.00V235.3H368.75V236.2H368.50V232.9H368.25V238.4H368.00V239.2H367.75V235.6H367.50V239.3H367.25V243.4H367.00V241.4H366.75V241.2H366.50V242.0H366.25V240.5H366.00V239.8H365.75V242.5H365.50V245.3H365.25V244.6H365.00V251.4H364.75V248.3H364.50V244.7H364.25V241.4H364.00V237.6H363.75V239.9H363.50V240.2H363.25V241.5H363.00V240.2H362.75V239.3H362.50V238.9H362.25V242.3H362.00V245.2H361.75V246.4H361.50V252.0H361.25V246.3H361.00V245.5H360.75V243.0H360.50V234.6H360.25V239.5H360.00V281.6H359.75V238.3H359.50V239.0H359.25V235.0H359.00V233.6H358.75V234.3H358.50V233.7H358.25V236.9H358.00V240.2H357.75V239.0H357.50V240.5H357.25V240.2H357.00V240.0H356.75V240.7H356.50V241.7H356.25V242.7H356.00V242.2H355.75V242.4H355.50V240.3H355.25V241.9H355.00V241.3H354.75V245.1H354.50V242.4H354.25V241.2H354.00V238.3H353.75V234.3H353.50V236.4H353.25V235.5H353.00V239.3H352.75V236.8H352.50V237.2H352.25V236.0H352.00V239.2H351.75V241.2H351.50V242.7H351.25V243.4H351.00V245.8H350.75V246.9H350.50V248.4H350.25V245.1H350.00V239.1H349.75V237.6H349.50V236.1H349.25V236.5H349.00V235.3H348.75V239.9H348.50V237.3H348.25V239.3H348.00V240.2H347.75V240.9H347.50V239.0H347.25V240.0H347.00V237.4H346.75V231.9H346.50V237.9H346.25H346.00V236.5H345.75V239.7H345.50V284.0H345.25H345.00H344.75V279.9H344.50V268.8H344.25V238.4H344.00V242.0H343.75V244.3H343.50H343.25V242.8H343.00V242.4H342.75V243.4H342.50V244.5H342.25V244.6H342.00V244.2H341.75V239.7H341.50V239.0H341.25V235.1H341.00V235.4H340.75V237.6H340.50V236.3H340.25V242.0H340.00V240.1H339.75V237.9H339.50V238.1H339.25V233.6H339.00V232.5H338.75V234.3H338.50V236.1H338.25V233.7H338.00V234.1H337.75V231.0H337.50V227.3H337.25V229.3H337.00V232.4H336.75V234.7H336.50V233.5H336.25V236.3H336.00V235.8H335.75V237.2H335.50V239.1H335.25V240.9H335.00V240.1H334.75V236.0H334.50V232.8H334.25V231.3H334.00V231.7H333.75V238.9H333.50V240.6H333.25V241.7H333.00V240.7H332.75V236.7H332.50V236.9H332.25V234.7H332.00V232.2H331.75V229.1H331.50V228.4H331.25V230.2H331.00V231.6H330.75V233.6H330.50V232.8H330.25V233.0H330.00V235.1H329.75V234.4H329.50V234.2H329.25V231.5H329.00V230.9H328.75V234.2H328.50V238.3H328.25V238.9H328.00V242.2H327.75V239.4H327.50V235.9H327.25V235.6H327.00V231.3H326.75V229.7H326.50V234.3H326.25V235.9H326.00V258.8H325.75V240.1H325.50V236.9H325.25V234.6H325.00V231.9H324.75V232.1H324.50V231.3H324.25V230.6H324.00V233.2H323.75V230.4H323.50V231.1H323.25V230.4H323.00V226.9H322.75V229.7H322.50V231.3H322.25V234.4H322.00V236.3H321.75V235.1H321.50V237.1H321.25V232.1H321.00V231.7H320.75V228.4H320.50V225.0H320.25V227.4H320.00V224.7H319.75V223.9H319.50V226.9H319.25V229.5H319.00V227.7H318.75V229.4H318.50V264.0H318.25H318.00H317.75V222.2H317.50V223.7H317.25V220.9H317.00V218.3H316.75V221.6H316.50V223.6H316.25H316.00V224.9H315.75V222.0H315.50V221.8H315.25V219.7H315.00V222.3H314.75V224.5H314.50V223.3H314.25V225.7H314.00V218.9H313.75V217.0H313.50V217.7H313.25V214.1H313.00V218.0H312.75V216.5H312.50V214.3H312.25V215.0H312.00V212.2H311.75V215.0H311.50V215.8H311.25V218.2H311.00V220.9H310.75V223.4H310.50V222.3H310.25V222.1H310.00V222.0H309.75V219.3H309.50V222.9H309.25V223.8H309.00V223.5H308.75V223.7H308.50V225.3H308.25V221.6H308.00V221.4H307.75V219.4H307.50V250.3H307.25H307.00V217.3H306.75V218.9H306.50V223.3H306.25V220.4H306.00V218.8H305.75V217.9H305.50V212.7H305.25V216.2H305.00V218.7H304.75V219.6H304.50V224.4H304.25V223.9H304.00V223.2H303.75V228.8H303.50V227.3H303.25V227.5H303.00V224.3H302.75V217.7H302.50V213.3H302.25V211.8H302.00V218.1H301.75V216.2H301.50V216.5H301.25V215.1H301.00V214.6H300.75V213.3H300.50V215.8H300.25V217.6H300.00V216.8H299.75V216.5H299.50V214.8H299.25V212.3H299.00V211.6H298.75V215.6H298.50V212.9H298.25V212.3H298.00V212.2H297.75V209.7H297.50V213.8H297.25V214.8H297.00V213.7H296.75V215.8H296.50V216.7H296.25V215.8H296.00V216.1H295.75V216.8H295.50V216.4H295.25V249.4H295.00H294.75V221.4H294.50V222.0H294.25V220.2H294.00V217.7H293.75V214.6H293.50V215.5H293.25V217.6H293.00V217.8H292.75V219.2H292.50V215.4H292.25V214.7H292.00V216.6H291.75V216.5H291.50V218.1H291.25V219.4H291.00V224.3H290.75V220.5H290.50V220.8H290.25V223.7H290.00V216.8H289.75V219.2H289.50V221.0H289.25V219.4H289.00V223.6H288.75V223.4H288.50V220.2H288.25V216.2H288.00V211.6H287.75V212.6H287.50V213.1H287.25V217.6H287.00V220.5H286.75V218.7H286.50V221.5H286.25V218.3H286.00V214.8H285.75V210.8H285.50V206.2H285.25V204.6H285.00V203.9H284.75V208.8H284.50V214.1H284.25V213.4H284.00V216.5H283.75V216.2H283.50V213.0H283.25V213.1H283.00V212.1H282.75V213.4H282.50V213.1H282.25V213.4H282.00V214.0H281.75V214.6H281.50V221.7H281.25V223.0H281.00V223.3H280.75V221.3H280.50V218.9H280.25V218.5H280.00V217.9H279.75V215.6H279.50V212.0H279.25V212.5H279.00V215.7H278.75V215.0H278.50V215.1H278.25V215.4H278.00V211.7H277.75V215.2H277.50V218.0H277.25V217.7H277.00V219.4H276.75V215.6H276.50V216.7H276.25V215.2H276.00H275.75V218.2H275.50V219.0H275.25V227.2H275.00V229.2H274.75V229.5H274.50V227.4H274.25V225.1H274.00V225.9H273.75V225.1H273.50H273.25V223.1H273.00V224.1H272.75V228.2H272.50V227.9H272.25V226.0H272.00V222.6H271.75V221.7H271.50V219.9H271.25V220.1H271.00V223.7H270.75V223.2H270.50V227.1H270.25V229.8H270.00V227.3H269.75V227.7H269.50V226.7H269.25V224.8H269.00V225.7H268.75V224.1H268.50V224.0H268.25V228.3H268.00V229.4H267.75V233.2H267.50V230.5H267.25V228.3H267.00V227.4H266.75V222.9H266.50V222.2H266.25V221.5H266.00V218.1H265.75V221.2H265.50V225.2H265.25V226.1H265.00V225.9H264.75V225.6H264.50V223.6H264.25V222.3H264.00V226.9H263.75V222.7H263.50V222.5H263.25V222.6H263.00V219.3H262.75V223.2H262.50V225.2H262.25V222.0H262.00V222.6H261.75V217.9H261.50V214.6H261.25V218.8H261.00V220.6H260.75V224.1H260.50V224.6H260.25V225.1H260.00V226.0H259.75V227.0H259.50V230.7H259.25V227.7H259.00V225.0H258.75V225.1H258.50V220.4H258.25V221.4H258.00V220.7H257.75V223.5H257.50V225.7H257.25V227.3H257.00V232.5H256.75V229.5H256.50V230.4H256.25V229.6H256.00V228.1H255.75V228.0H255.50V252.9H255.25V221.2H255.00V242.0H254.75V216.6H254.50V215.6H254.25V216.2H254.00V213.6H253.75V217.5H253.50V220.5H253.25V222.3H253.00V223.1H252.75V222.6H252.50V222.5H252.25V219.4H252.00V219.7H251.75V220.1H251.50V219.2H251.25V218.9H251.00V213.8H250.75V217.5H250.50V218.4H250.25V218.2H250.00V222.9H249.75V216.2H249.50V214.8H249.25V218.4H249.00V217.3H248.75V221.1H248.50V223.3H248.25V217.1H248.00V215.1H247.75V212.9H247.50V211.6H247.25V212.8H247.00V212.9H246.75V214.1H246.50V213.0H246.25V214.7H246.00V219.8H245.75V215.8H245.50V213.0H245.25V214.7H245.00V209.4H244.75V210.7H244.50V213.0H244.25V210.6H244.00V212.8H243.75V213.4H243.50V215.4H243.25V217.4H243.00V216.6H242.75V217.6H242.50V220.1H242.25V221.5H242.00V219.8H241.75V218.9H241.50V242.5H241.25V211.5H241.00V211.2H240.75V212.6H240.50V211.7H240.25V213.4H240.00V248.6H239.75H239.50V214.0H239.25V216.0H239.00V215.5H238.75V215.6H238.50V211.9H238.25V212.1H238.00V212.6H237.75V216.2H237.50V219.3H237.25V217.8H237.00V217.4H236.75V216.2H236.50V212.8H236.25V213.4H236.00V210.2H235.75V207.1H235.50V206.2H235.25V205.2H235.00V208.1H234.75V210.9H234.50V213.7H234.25V211.0H234.00V238.5H233.75V212.5H233.50V212.4H233.25V212.3H233.00V210.3H232.75V207.8H232.50V205.8H232.25V208.3H232.00V208.8H231.75V211.8H231.50V209.6H231.25V210.5H231.00V207.1H230.75V206.9H230.50V209.1H230.25V208.4H230.00V212.8H229.75H229.50V211.9H229.25V209.8H229.00V210.5H228.75V209.9H228.50V212.1H228.25V218.0H228.00V216.3H227.75V217.6H227.50V214.7H227.25V205.8H227.00V204.9H226.75V204.1H226.50V206.7H226.25V210.6H226.00V212.5H225.75V210.7H225.50V210.9H225.25V208.1H225.00V207.7H224.75V209.9H224.50V209.5H224.25V210.8H224.00V207.7H223.75V203.7H223.50V204.0H223.25V207.7H223.00V206.2H222.75V208.8H222.50V209.0H222.25V207.4H222.00V210.2H221.75V211.1H221.50V211.9H221.25V211.0H221.00V209.9H220.75V205.1H220.50V203.0H220.25V204.7H220.00V206.7H219.75V209.3H219.50V210.4H219.25V205.9H219.00V199.9H218.75V199.7H218.50V198.5H218.25V200.9H218.00V204.2H217.75V200.1H217.50V199.8H217.25V200.7H217.00V200.0H216.75V204.7H216.50V203.8H216.25V203.5H216.00V206.5H215.75V208.4H215.50V210.1H215.25V212.0H215.00V212.5H214.75V211.0H214.50V211.1H214.25V208.3H214.00V204.8H213.75V206.5H213.50V206.3H213.25V209.1H213.00V209.1H212.75V206.9H212.50V206.6H212.25V201.9H212.00V201.3H211.75V198.3H211.50V197.5H211.25V201.5H211.00V203.2H210.75V205.8H210.50V233.0H210.25H210.00H209.75V202.6H209.50V201.2H209.25V205.7H209.00V208.3H208.75V207.1H208.50V204.8H208.25V202.8H208.00V200.3H207.75V197.2H207.50V200.3H207.25V202.2H207.00V201.8H206.75V201.2H206.50V199.1H206.25V195.9H206.00V196.8H205.75V199.5H205.50V203.3H205.25V204.5H205.00V203.4H204.75V204.0H204.50V202.9H204.25V204.1H204.00V207.8H203.75V210.2H203.50V210.7H203.25V213.9H203.00V211.6H202.75V207.1H202.50V205.2H202.25V201.9H202.00V200.3H201.75V199.7H201.50V200.5H201.25V203.2H201.00V203.0H200.75V202.4H200.50V200.3H200.25V197.9H200.00V199.3H199.75V204.6H199.50V207.1H199.25V206.5H199.00V206.7H198.75V204.0H198.50V201.9H198.25V201.3H198.00V197.9H197.75V198.3H197.50V199.3H197.25V199.4H197.00V196.9H196.75V196.8H196.50V196.6H196.25V195.8H196.00V201.1H195.75V199.8H195.50V200.5H195.25V204.2H195.00V205.5H194.75V204.3H194.50V200.5H194.25V196.3H194.00V196.1H193.75V196.4H193.50V202.9H193.25V203.0H193.00V200.2H192.75V200.4H192.50V195.4H192.25V192.9H192.00V190.7H191.75V191.5H191.50H191.25V194.0H191.00V195.0H190.75V195.2H190.50V196.4H190.25V195.8H190.00V198.1H189.75V197.9H189.50V198.0H189.25V197.5H189.00V193.1H188.75V193.0H188.50V192.9H188.25V191.5H188.00V197.0H187.75V194.7H187.50V194.9H187.25V199.9H187.00V196.8H186.75V202.6H186.50V201.7H186.25V202.8H186.00V205.7H185.75V205.0H185.50V205.9H185.25V204.0H185.00V202.2H184.75V199.8H184.50V198.3H184.25V193.4H184.00V192.0H183.75V190.2H183.50V191.0H183.25V193.8H183.00V196.6H182.75V196.8H182.50V234.3H182.25H182.00V192.2H181.75V193.3H181.50V190.9H181.25V198.8H181.00V197.7H180.75V196.3H180.50V199.9H180.25V197.6H180.00V199.4H179.75V200.5H179.50V197.4H179.25V197.0H179.00V194.0H178.75V194.1H178.50V235.2H178.25H178.00V194.0H177.75V193.4H177.50V195.6H177.25V197.8H177.00V197.1H176.75V197.8H176.50V194.5H176.25V194.8H176.00V198.3H175.75V195.6H175.50V195.5H175.25V191.8H175.00V191.9H174.75V191.7H174.50V192.9H174.25V191.7H174.00V190.3H173.75V194.9H173.50V194.4H173.25V197.1H173.00V194.7H172.75V191.0H172.50V190.2H172.25V191.3H172.00V193.1H171.75V191.7H171.50V192.4H171.25V193.9H171.00V196.0H170.75V198.2H170.50V199.1H170.25V196.6H170.00V194.2H169.75V197.6H169.50V196.5H169.25V197.6H169.00V197.0H168.75V193.8H168.50V193.2H168.25V192.1H168.00V191.4H167.75V192.1H167.50V196.0H167.25V194.8H167.00V198.8H166.75V199.2H166.50V193.6H166.25V193.5H166.00V233.3H165.75H165.50V190.1H165.25V192.2H165.00H164.75V192.8H164.50V190.9H164.25V191.6H164.00V191.5H163.75V196.7H163.50V194.3H163.25V190.9H163.00V189.3H162.75V185.2H162.50V186.4H162.25V185.0H162.00V188.5H161.75V187.6H161.50V182.8H161.25V182.4H161.00V181.6H160.75V186.7H160.50V189.5H160.25V189.7H160.00V192.2H159.75V192.6H159.50V192.0H159.25V191.8H159.00V188.0H158.75V184.3H158.50V232.1H158.25V182.5H158.00V184.7H157.75V188.7H157.50V191.8H157.25V194.1H157.00V212.6H156.75H156.50V186.2H156.25V211.0H156.00H155.75V187.3H155.50V190.2H155.25V192.0H155.00V229.9H154.75H154.50V214.7H154.25V190.0H154.00V188.9H153.75V191.1H153.50V185.0H153.25V189.3H153.00V232.0H152.75H152.50V222.7H152.25V223.6H152.00V190.0H151.75V189.8H151.50V189.7H151.25V218.5H151.00V219.1H150.75H150.50V235.4H150.25V234.0H150.00V228.7H149.75H149.50V194.7H149.25V235.1H149.00V236.9H148.75V192.8H148.50V231.6H148.25H148.00V194.4H147.75V193.9H147.50V235.7H147.25H147.00V222.7H146.75V228.7H146.50V192.0H146.25V231.6H146.00V190.3H145.75V193.0H145.50V189.9H145.25V220.9H145.00H144.75V190.5H144.50V189.9H144.25V185.6H144.00V226.2H143.75V220.4H143.50V226.4H143.25H143.00V217.6H142.75V191.2H142.50V218.2H142.25V211.2H142.00V187.9H141.75V206.8H141.50H141.25V194.0H141.00V190.6H140.75V196.6H140.50V212.3H140.25H140.00V192.8H139.75V189.8H139.50V188.9H139.25V191.1H139.00V190.5H138.75V189.8H138.50V189.9H138.25V188.2H138.00V186.4H137.75V184.5H137.50V183.9H137.25V181.7H137.00V184.1H136.75V182.7H136.50V180.7H136.25V186.9H136.00V185.8H135.75V191.6H135.50V193.4H135.25V189.9H135.00V193.9H134.75V194.6H134.50V194.5H134.25V198.1H134.00V194.8H133.75V190.1H133.50V193.8H133.25V191.0H133.00V190.5H132.75V197.4H132.50V194.0H132.25V196.1H132.00V194.6H131.75V191.2H131.50V196.5H131.25V198.0H131.00V200.4H130.75V202.2H130.50V196.5H130.25V193.4H130.00V193.3H129.75V187.5H129.50V186.5H129.25V188.1H129.00V187.1H128.75V189.5H128.50V189.7H128.25V187.0H128.00V186.0H127.75V185.5H127.50V184.1H127.25V185.4H127.00V188.4H126.75V191.0H126.50V189.8H126.25V187.6H126.00V189.8H125.75V185.5H125.50V189.2H125.25V192.2H125.00V190.7H124.75V194.6H124.50V192.2H124.25V191.6H124.00V187.6H123.75V189.0H123.50V190.1H123.25V190.5H123.00V192.3H122.75V187.0H122.50V188.6H122.25V189.1H122.00V187.8H121.75V190.5H121.50V186.6H121.25V182.4H121.00V181.9H120.75V181.0H120.50V186.6H120.25V189.1H120.00V190.7H119.75V185.4H119.50V180.0H119.25V180.9H119.00V181.5H118.75V183.9H118.50V184.0H118.25V183.2H118.00V179.4H117.75V181.7H117.50V183.2H117.25V182.5H117.00V186.1H116.75V189.0H116.50V192.4H116.25V191.7H116.00V187.4H115.75V184.7H115.50V180.3H115.25V178.8H115.00V221.0H114.75H114.50V173.9H114.25V176.1H114.00V178.9H113.75V180.8H113.50V180.4H113.25V202.6H113.00H112.75V199.2H112.50V201.8H112.25H112.00V205.0H111.75V175.7H111.50V200.7H111.25H111.00V198.9H110.75V203.4H110.50V204.3H110.25V223.2H110.00H109.75V214.6H109.50V223.2H109.25H109.00V218.8H108.75V219.2H108.50H108.25V219.6H108.00V213.3H107.75V230.2H107.50V221.7H107.25V220.0H107.00V232.7H106.75V229.5H106.50H106.25V226.4H106.00V170.9H105.75V221.5H105.50H105.25V220.1H105.00V226.4H104.75V216.6H104.50V173.0H104.25V212.2H104.00V214.6H103.75V169.2H103.50V198.7H103.25H103.00V213.3H102.75H102.50V173.7H102.25V207.5H102.00H101.75V193.0H101.50V199.3H101.25V199.8H101.00V170.5H100.75V171.7H100.50V172.4H100.25V177.1H100.00V175.8H99.75V172.9H99.50V172.6H99.25V190.0H99.00H98.75V179.7H98.50V196.3H98.25V195.0H98.00V167.6H97.75V203.6H97.50V206.4H97.25V199.2H97.00H96.75V193.7H96.50V194.7H96.25V206.8H96.00V206.9H95.75V204.9H95.50V213.6H95.25H95.00H94.75V208.5H94.50H94.25V213.3H94.00V171.2H93.75V209.9H93.50H93.25V218.6H93.00V173.6H92.75V212.6H92.50V217.9H92.25V209.0H92.00V175.5H91.75V200.2H91.50H91.25V198.7H91.00V207.8H90.75V209.2H90.50H90.25V200.1H90.00V179.3H89.75V178.5H89.50V178.3H89.25V192.8H89.00H88.75V185.2H88.50V199.2H88.25H88.00V193.4H87.75H87.50V189.0H87.25V199.6H87.00V203.0H86.75V200.2H86.50V193.7H86.25V197.6H86.00V196.8H85.75V173.5H85.50V169.4H85.25V201.1H85.00H84.75V201.9H84.50H84.25V174.0H84.00V195.9H83.75V200.3H83.50V205.9H83.25H83.00V173.6H82.75V178.0H82.50V182.4H82.25V194.5H82.00V198.6H81.75V199.9H81.50V199.8H81.25V178.2H81.00V202.7H80.75V207.7H80.50V193.9H80.25V200.2H80.00H79.75V196.2H79.50H79.25V181.1H79.00V180.5H78.75V199.2H78.50H78.25V191.3H78.00V186.0H77.75V188.6H77.50V180.7H77.25V185.3H77.00V186.3H76.75V197.5H76.50V184.3H76.25V187.4H76.00V183.8H75.75V182.1H75.50V182.8H75.25V180.4H75.00V186.1H74.75V183.9H74.50V184.1H74.25V182.4H74.00V181.5H73.75V182.8H73.50V184.2H73.25V183.4H73.00V182.9H72.75V181.3H72.50V179.5H72.25V180.5H72.00V178.1H71.75V180.5H71.50V181.5H71.25V182.9H71.00V185.9H70.75V187.5H70.50V184.9H70.25V185.1H70.00V184.5H69.75V180.7H69.50V183.9H69.25V183.2H69.00V183.8H68.75V185.4H68.50V183.6H68.25V183.3H68.00V183.1H67.75V185.2H67.50V188.1H67.25V185.3H67.00V185.5H66.75V182.7H66.50V183.1H66.25V186.1H66.00V186.8H65.75V189.2H65.50V186.7H65.25V186.4H65.00V181.7H64.75V176.1H64.50V174.5H64.25V173.5H64.00V175.1H63.75V178.5H63.50V178.8H63.25V178.1H63.00V178.6H62.75V178.4H62.50Z" fill="#000"/>
<path d="M62.50 129.2H62.75V126.3H63.00V129.5H63.25V130.6H63.50V132.2H63.75V133.0H64.00V128.3H64.25V126.3H64.50V127.6H64.75V130.7H65.00V129.6H65.25V127.9H65.50V131.0H65.75V129.7H66.00V129.9H66.25V126.8H66.50V130.4H66.75V130.0H67.00V128.8H67.25V128.7H67.50V127.1H67.75V131.6H68.00V129.9H68.25V127.4H68.50V127.2H68.75V127.6H69.00V128.4H69.25V130.5H69.50V128.6H69.75V129.4H70.00V127.6H70.25V128.1H70.50V129.1H70.75V126.9H71.00V128.8H71.25V127.1H71.50V127.6H71.75V127.5H72.00V127.6H72.25V125.8H72.50V123.0H72.75V124.1H73.00V125.9H73.25V126.1H73.50V127.6H73.75V126.3H74.00V126.4H74.25V123.4H74.50V128.3H74.75V128.4H75.00V129.0H75.25V125.1H75.50V126.0H75.75V128.2H76.00V127.3H76.25V127.2H76.50V125.9H76.75V125.7H77.00V128.0H77.25V127.8H77.50V132.6H77.75V131.8H78.00V129.5H78.25V128.8H78.50V125.6H78.75V129.5H79.00V128.9H79.25V128.0H79.50V126.9H79.75V129.9H80.00V130.4H80.25V129.4H80.50V128.3H80.75V129.5H81.00V127.7H81.25V130.1H81.50V127.0H81.75V128.5H82.00V128.3H82.25V126.6H82.50V125.8H82.75V131.8H83.00V130.8H83.25V133.0H83.50V132.0H83.75V136.5H84.00V137.2H84.25V139.3H84.50V139.4H84.75V140.1H85.00V136.8H85.25V139.7H85.50V137.0H85.75V139.3H86.00V138.8H86.25V138.9H86.50V138.5H86.75V136.7H87.00V139.4H87.25V140.1H87.50V135.0H87.75V138.9H88.00V138.7H88.25V141.2H88.50V140.2H88.75V138.2H89.00V134.4H89.25V137.7H89.50V136.3H89.75V138.6H90.00V132.1H90.25V135.3H90.50V136.5H90.75V138.1H91.00V135.9H91.25V137.4H91.50V138.0H91.75V142.0H92.00V136.1H92.25V137.7H92.50V137.9H92.75V141.0H93.00V139.1H93.25V139.6H93.50V139.1H93.75V136.1H94.00V137.5H94.25V138.5H94.50V137.3H94.75V138.5H95.00V137.4H95.25V139.1H95.50V139.7H95.75V140.2H96.00V139.8H96.25V134.8H96.50V135.1H96.75V134.5H97.00V137.7H97.25V141.5H97.50V141.7H97.75V139.1H98.00V136.2H98.25V139.3H98.50V137.5H98.75V138.3H99.00V136.6H99.25V140.5H99.50V138.4H99.75V139.4H100.00V139.4H100.25V136.4H100.50V137.4H100.75V138.2H101.00V139.7H101.25V140.8H101.50V137.6H101.75V138.4H102.00H102.25V141.0H102.50V137.5H102.75V140.5H103.00V139.7H103.25V138.8H103.50V140.0H103.75V139.4H104.00V138.3H104.25V140.0H104.50V140.1H104.75V138.8H105.00V139.6H105.25V138.2H105.50V136.6H105.75V137.6H106.00V136.0H106.25V138.5H106.50V141.1H106.75V140.6H107.00V139.5H107.25V140.2H107.50V141.3H107.75V142.8H108.00V137.6H108.25V139.9H108.50V139.0H108.75V136.3H109.00V137.1H109.25V139.4H109.50V139.5H109.75V137.3H110.00V138.5H110.25V139.1H110.50V138.4H110.75V137.7H111.00V137.9H111.25V139.1H111.50V139.6H111.75V141.8H112.00V142.2H112.25V141.7H112.50V138.9H112.75V140.4H113.00V142.9H113.25V145.3H113.50V144.7H113.75V145.5H114.00V146.0H114.25V145.4H114.50V144.8H114.75V145.9H115.00V149.5H115.25V149.0H115.50V150.2H115.75V146.5H116.00V144.7H116.25V145.1H116.50V144.9H116.75V145.9H117.00V146.5H117.25V143.8H117.50V145.3H117.75V143.9H118.00V145.6H118.25V144.8H118.50V149.7H118.75V151.0H119.00V150.7H119.25V149.9H119.50V151.0H119.75V152.8H120.00V147.6H120.25V148.6H120.50V146.3H120.75V144.5H121.00V149.0H121.25V148.3H121.50V148.9H121.75H122.00V152.8H122.25V150.6H122.50V148.5H122.75V147.2H123.00V146.8H123.25V145.5H123.50V149.1H123.75V148.8H124.00V146.9H124.25V148.4H124.50H124.75V151.5H125.00V147.6H125.25V145.9H125.50V142.9H125.75V146.8H126.00V147.5H126.25V149.9H126.50V149.9H126.75V149.1H127.00V150.4H127.25V150.3H127.50V150.0H127.75V146.4H128.00V145.9H128.25V145.6H128.50V148.1H128.75V146.1H129.00V147.9H129.25V148.0H129.50V147.9H129.75V146.2H130.00V147.3H130.25V148.4H130.50V148.4H130.75V145.8H131.00V144.3H131.25V147.1H131.50V145.7H131.75V147.2H132.00V149.2H132.25V147.0H132.50V145.0H132.75V144.9H133.00V145.8H133.25V149.0H133.50V152.1H133.75V149.8H134.00V149.3H134.25V149.5H134.50V147.3H134.75V150.3H135.00V149.7H135.25V146.3H135.50V144.3H135.75V144.9H136.00V146.8H136.25V148.2H136.50V152.2H136.75V148.1H137.00V148.7H137.25V145.1H137.50V149.1H137.75V151.5H138.00V151.1H138.25V148.7H138.50V147.8H138.75V147.4H139.00V145.1H139.25V146.9H139.50V148.5H139.75V149.1H140.00V149.4H140.25V149.3H140.50V147.3H140.75V146.9H141.00V148.2H141.25V150.4H141.50V148.8H141.75V149.8H142.00V149.2H142.25V148.1H142.50V147.8H142.75V148.0H143.00V145.4H143.25V149.7H143.50V146.4H143.75V145.3H144.00V147.6H144.25V148.8H144.50V149.2H144.75V147.7H145.00V151.3H145.25H145.50V149.9H145.75V147.7H146.00V147.2H146.25V146.0H146.50V148.0H146.75V149.4H147.00V150.4H147.25V148.3H147.50V148.0H147.75V145.7H148.00V148.5H148.25V146.5H148.50V149.0H148.75V150.5H149.00V151.4H149.25V150.8H149.50V152.9H149.75V150.2H150.00V148.8H150.25V145.9H150.50V149.3H150.75V147.4H151.00V147.5H151.25V148.7H151.50V147.2H151.75V147.5H152.00V151.8H152.25V150.4H152.50V149.6H152.75V149.3H153.00V149.6H153.25V147.9H153.50V147.4H153.75V147.0H154.00V149.9H154.25V145.8H154.50V149.4H154.75V147.4H155.00V147.5H155.25V151.3H155.50V149.8H155.75V151.9H156.00V150.0H156.25V146.9H156.50V147.6H156.75V151.4H157.00V151.3H157.25V151.1H157.50V150.3H157.75V155.0H158.00V153.4H158.25V152.3H158.50V151.4H158.75V148.8H159.00V145.5H159.25V144.4H159.50V148.1H159.75V152.5H160.00V149.7H160.25V154.4H160.50V149.6H160.75V150.5H161.00V148.0H161.25V149.9H161.50V152.9H161.75V149.6H162.00V147.4H162.25V147.3H162.50V147.9H162.75V146.9H163.00V148.5H163.25V146.1H163.50V145.3H163.75V146.0H164.00V149.3H164.25V147.0H164.50V148.5H164.75V148.6H165.00V149.3H165.25V147.7H165.50V150.6H165.75V150.6H166.00V147.5H166.25V146.6H166.50V147.6H166.75V150.9H167.00V151.6H167.25V152.0H167.50V150.1H167.75V148.5H168.00V147.0H168.25V146.0H168.50V149.2H168.75V149.3H169.00V152.2H169.25V153.7H169.50V156.1H169.75V153.5H170.00V151.1H170.25V153.9H170.50V149.8H170.75V149.2H171.00V147.9H171.25V150.2H171.50V152.2H171.75V147.0H172.00V150.0H172.25V147.7H172.50V146.5H172.75V148.5H173.00V151.3H173.25V154.4H173.50V152.0H173.75V152.3H174.00V151.6H174.25V150.0H174.50V150.1H174.75H175.00V146.5H175.25V147.8H175.50V144.6H175.75V146.6H176.00V143.7H176.25V150.9H176.50V150.7H176.75V150.4H177.00V149.8H177.25V151.4H177.50V150.6H177.75V147.4H178.00V146.0H178.25V145.6H178.50V147.6H178.75V148.8H179.00V148.0H179.25V142.3H179.50V146.9H179.75V148.7H180.00V149.5H180.25V147.9H180.50V149.7H180.75V150.9H181.00V148.6H181.25V148.9H181.50V150.4H181.75V151.7H182.00V146.9H182.25V148.2H182.50V148.9H182.75V148.5H183.00V147.9H183.25V147.8H183.50V150.7H183.75V151.8H184.00V152.3H184.25V151.3H184.50V149.2H184.75V148.4H185.00V151.5H185.25V149.3H185.50V152.1H185.75V149.9H186.00V147.6H186.25V147.2H186.50V150.3H186.75V151.2H187.00V152.5H187.25V151.8H187.50V147.6H187.75V148.3H188.00V148.7H188.25V146.6H188.50V146.9H188.75V150.1H189.00V151.6H189.25V151.5H189.50V151.8H189.75V150.2H190.00V149.0H190.25V149.8H190.50V149.2H190.75V148.5H191.00V148.8H191.25V150.1H191.50V152.1H191.75V151.0H192.00V150.6H192.25V150.3H192.50V153.1H192.75V148.2H193.00V147.5H193.25V148.7H193.50V150.1H193.75V150.3H194.00V152.3H194.25V147.0H194.50V153.9H194.75V150.1H195.00V155.2H195.25V151.7H195.50V153.5H195.75V152.5H196.00V154.4H196.25V152.8H196.50H196.75V149.0H197.00V151.2H197.25V151.1H197.50V147.7H197.75V148.7H198.00V149.1H198.25V152.6H198.50V154.5H198.75V152.4H199.00V151.8H199.25V150.7H199.50V150.4H199.75V153.5H200.00V152.2H200.25V155.0H200.50V150.9H200.75V152.8H201.00V152.6H201.25V152.4H201.50V153.4H201.75V152.9H202.00V155.6H202.25V155.9H202.50V156.2H202.75V150.7H203.00V152.8H203.25V150.8H203.50V154.1H203.75V152.5H204.00V153.6H204.25V151.3H204.50V149.2H204.75V149.6H205.00V149.3H205.25V155.9H205.50V156.0H205.75V155.6H206.00V155.3H206.25V152.9H206.50V151.0H206.75V153.6H207.00V154.3H207.25V154.0H207.50V154.2H207.75V153.5H208.00V150.0H208.25V152.9H208.50V153.3H208.75V154.3H209.00V157.3H209.25V153.8H209.50V153.5H209.75V152.8H210.00V154.6H210.25V153.2H210.50V151.8H210.75V152.0H211.00V152.8H211.25V156.7H211.50V157.7H211.75V156.5H212.00V153.5H212.25V154.4H212.50V155.0H212.75V157.0H213.00V157.9H213.25V159.3H213.50V156.6H213.75V154.4H214.00V156.4H214.25V153.8H214.50V154.5H214.75V154.0H215.00V155.0H215.25V153.7H215.50V153.1H215.75V152.5H216.00V158.3H216.25V153.7H216.50V158.4H216.75V156.5H217.00V157.8H217.25V156.7H217.50V155.9H217.75V155.5H218.00V155.6H218.25V158.4H218.50V158.9H218.75V157.8H219.00V158.4H219.25V157.5H219.50V155.9H219.75V158.2H220.00V154.7H220.25V155.6H220.50V155.1H220.75V156.7H221.00V152.7H221.25V157.0H221.50V155.2H221.75V154.6H222.00V153.8H222.25V155.9H222.50V155.4H222.75V157.0H223.00V160.7H223.25V157.3H223.50V158.6H223.75V161.9H224.00V158.6H224.25V159.4H224.50V156.2H224.75V156.7H225.00V155.0H225.25V155.2H225.50V154.6H225.75V159.3H226.00V159.9H226.25V160.7H226.50V158.4H226.75V160.2H227.00V158.1H227.25V156.8H227.50V157.9H227.75V158.4H228.00V158.0H228.25V158.7H228.50V161.1H228.75V160.0H229.00V158.1H229.25V156.8H229.50V157.6H229.75V158.6H230.00V157.7H230.25V157.4H230.50V155.5H230.75V156.0H231.00V154.7H231.25V155.5H231.50V157.9H231.75V161.6H232.00V159.4H232.25V158.6H232.50V157.9H232.75V155.6H233.00V155.1H233.25V159.1H233.50V157.3H233.75V158.2H234.00V158.6H234.25V158.3H234.50V157.8H234.75V160.9H235.00V155.7H235.25V159.0H235.50V157.7H235.75V157.8H236.00V155.3H236.25V159.4H236.50V158.9H236.75V160.2H237.00V161.9H237.25V159.1H237.50V162.1H237.75V161.8H238.00V164.3H238.25V160.8H238.50V162.3H238.75V160.4H239.00V161.6H239.25V156.0H239.50V158.6H239.75V158.9H240.00V158.7H240.25V161.6H240.50V160.6H240.75H241.00V161.1H241.25V161.0H241.50V160.4H241.75V160.0H242.00V163.7H242.25V162.4H242.50V165.2H242.75V160.4H243.00V161.5H243.25V160.4H243.50V163.2H243.75V163.6H244.00V163.3H244.25V162.4H244.50V159.7H244.75V157.6H245.00V159.3H245.25V161.1H245.50V160.8H245.75V160.4H246.00V163.9H246.25V164.0H246.50V163.4H246.75V161.9H247.00V161.1H247.25V159.4H247.50V159.6H247.75V159.0H248.00V160.0H248.25V161.8H248.50V161.7H248.75V162.2H249.00V161.9H249.25V164.0H249.50V162.9H249.75V166.2H250.00V164.3H250.25V166.9H250.50V167.3H250.75V164.0H251.00V162.1H251.25V164.3H251.50V162.0H251.75V162.6H252.00V165.0H252.25V165.2H252.50V165.3H252.75V166.6H253.00V165.3H253.25V162.5H253.50V163.8H253.75V165.9H254.00V163.1H254.25V162.8H254.50V165.0H254.75V161.7H255.00V162.0H255.25V163.9H255.50V164.5H255.75V166.7H256.00V167.9H256.25V166.6H256.50V167.5H256.75V167.9H257.00V168.1H257.25V165.5H257.50V168.7H257.75V167.3H258.00V166.4H258.25V168.2H258.50V168.0H258.75V167.7H259.00V170.4H259.25V163.6H259.50V166.8H259.75V169.1H260.00V167.4H260.25V164.0H260.50V161.6H260.75V163.3H261.00V164.9H261.25V167.7H261.50V166.9H261.75V168.7H262.00V170.0H262.25V172.0H262.50V166.8H262.75V169.4H263.00H263.25V173.7H263.50V170.3H263.75V168.9H264.00V164.3H264.25V166.9H264.50V168.3H264.75V171.3H265.00V172.0H265.25V172.3H265.50V170.2H265.75V171.9H266.00V166.3H266.25V165.1H266.50V170.4H266.75V169.2H267.00V170.6H267.25V172.6H267.50V171.2H267.75V170.6H268.00V171.4H268.25V167.8H268.50V169.4H268.75V171.4H269.00V169.2H269.25V169.4H269.50V172.0H269.75V170.1H270.00V173.2H270.25V173.8H270.50V172.0H270.75V175.4H271.00V172.5H271.25V171.7H271.50V172.5H271.75V169.1H272.00V168.0H272.25V165.5H272.50V168.5H272.75V172.8H273.00V172.2H273.25V169.8H273.50V170.7H273.75V171.1H274.00V169.7H274.25V173.6H274.50V174.1H274.75V171.0H275.00V169.0H275.25V169.6H275.50V167.1H275.75V166.8H276.00V166.3H276.25V166.5H276.50V167.3H276.75V168.9H277.00V166.2H277.25V168.8H277.50V167.9H277.75V168.5H278.00V168.4H278.25V167.6H278.50V168.9H278.75V167.7H279.00V167.2H279.25V166.5H279.50V165.9H279.75V165.6H280.00V165.0H280.25V166.9H280.50V165.2H280.75V167.2H281.00V166.7H281.25V166.0H281.50V165.2H281.75V165.5H282.00V164.9H282.25V162.9H282.50V164.4H282.75V161.6H283.00V159.5H283.25V159.0H283.50V160.6H283.75V161.5H284.00V162.3H284.25V162.9H284.50V158.7H284.75V160.9H285.00V159.0H285.25V163.9H285.50V161.3H285.75V160.1H286.00V159.9H286.25V156.9H286.50V158.4H286.75V157.4H287.00V160.1H287.25V158.0H287.50V159.1H287.75V160.9H288.00V155.8H288.25V152.6H288.50V154.3H288.75V153.4H289.00V156.2H289.25V155.8H289.50V155.6H289.75V154.6H290.00V154.9H290.25V153.9H290.50V152.0H290.75V155.9H291.00V156.6H291.25V156.8H291.50V156.3H291.75V153.4H292.00V153.9H292.25V153.5H292.50V151.4H292.75V157.7H293.00V154.4H293.25V154.0H293.50V153.5H293.75V152.1H294.00V151.4H294.25V149.4H294.50V150.8H294.75V149.7H295.00V151.9H295.25V153.6H295.50V152.3H295.75V151.1H296.00V152.1H296.25V152.2H296.50V156.2H296.75V151.8H297.00V151.7H297.25V152.5H297.50V152.7H297.75V152.9H298.00V151.7H298.25V153.2H298.50V154.2H298.75V154.6H299.00V151.0H299.25V155.1H299.50V151.0H299.75V151.7H300.00V150.3H300.25V154.0H300.50V150.0H300.75V151.7H301.00V151.3H301.25V151.7H301.50V151.9H301.75V151.3H302.00V151.3H302.25V149.7H302.50V150.1H302.75V151.5H303.00V150.7H303.25V155.3H303.50V154.8H303.75V153.7H304.00V154.0H304.25V151.6H304.50V155.4H304.75V153.4H305.00V156.7H305.25V153.3H305.50V155.4H305.75V152.9H306.00V151.6H306.25V150.5H306.50V150.8H306.75V150.3H307.00V152.8H307.25V156.0H307.50V155.1H307.75V155.8H308.00V155.1H308.25V151.3H308.50V154.5H308.75V152.6H309.00V156.3H309.25V157.8H309.50V157.3H309.75V155.3H310.00V151.0H310.25V153.5H310.50V152.6H310.75V156.2H311.00V155.2H311.25V157.0H311.50V155.5H311.75V158.0H312.00V153.9H312.25V155.8H312.50V154.4H312.75V152.8H313.00V156.0H313.25V156.5H313.50V154.9H313.75V155.7H314.00V154.4H314.25V156.4H314.50V160.2H314.75V162.2H315.00V160.5H315.25V157.8H315.50V156.0H315.75V157.5H316.00V157.8H316.25V155.7H316.50V157.6H316.75V156.1H317.00V155.9H317.25V156.8H317.50V159.0H317.75V160.0H318.00V158.1H318.25V159.2H318.50V156.6H318.75V157.8H319.00V159.5H319.25V158.6H319.50V157.1H319.75V157.7H320.00V160.8H320.25V160.6H320.50V159.0H320.75V162.0H321.00V158.7H321.25V160.3H321.50V157.7H321.75V159.6H322.00V163.6H322.25V162.2H322.50V161.9H322.75V160.1H323.00V161.3H323.25V160.8H323.50V164.5H323.75V163.9H324.00V163.9H324.25V165.9H324.50V166.9H324.75V165.1H325.00V163.0H325.25V164.9H325.50V165.0H325.75V165.4H326.00V164.7H326.25V164.0H326.50V163.8H326.75V163.8H327.00V166.1H327.25V162.2H327.50V162.6H327.75V161.4H328.00V164.4H328.25V163.9H328.50V166.4H328.75V168.2H329.00V165.2H329.25V165.6H329.50V165.9H329.75V164.6H330.00V164.8H330.25V160.6H330.50V164.0H330.75V161.0H331.00V162.6H331.25V165.1H331.50V166.8H331.75V165.3H332.00V167.9H332.25V163.9H332.50V165.9H332.75V163.5H333.00V166.8H333.25V167.9H333.50V164.2H333.75V163.6H334.00V166.3H334.25V165.6H334.50V166.8H334.75V165.0H335.00V164.3H335.25V164.5H335.50V166.1H335.75H336.00V167.4H336.25V168.1H336.50V168.3H336.75V167.3H337.00V169.8H337.25V168.6H337.50V166.8H337.75V172.3H338.00V171.6H338.25V168.4H338.50V166.3H338.75V165.2H339.00V167.4H339.25V166.1H339.50V166.2H339.75V166.6H340.00V165.4H340.25V166.3H340.50V165.9H340.75V167.4H341.00V168.9H341.25V169.2H341.50V167.9H341.75V166.4H342.00V167.3H342.25V168.0H342.50V170.4H342.75V170.7H343.00V167.4H343.25V169.7H343.50V168.5H343.75V168.8H344.00V173.2H344.25V174.8H344.50V171.0H344.75V172.8H345.00V171.4H345.25V169.4H345.50V167.3H345.75V166.5H346.00V167.0H346.25V169.0H346.50V169.7H346.75V171.6H347.00V170.9H347.25V169.7H347.50V168.8H347.75V167.8H348.00V169.1H348.25V168.6H348.50V171.4H348.75V171.8H349.00V169.3H349.25V169.2H349.50V167.9H349.75V171.0H350.00H350.25H350.50V169.8H350.75V168.7H351.00V166.6H351.25V169.0H351.50V169.5H351.75V169.3H352.00V172.6H352.25V173.8H352.50V174.4H352.75V172.6H353.00V172.1H353.25V173.3H353.50V171.7H353.75V172.0H354.00V167.3H354.25V169.4H354.50V171.1H354.75V173.2H355.00V171.7H355.25V167.4H355.50V169.3H355.75V168.8H356.00V173.5H356.25V171.9H356.50V173.6H356.75V172.2H357.00V173.0H357.25V170.7H357.50V169.3H357.75V169.5H358.00V171.4H358.25V171.1H358.50V172.3H358.75V171.5H359.00V173.3H359.25V171.8H359.50V172.5H359.75V172.2H360.00V172.1H360.25V172.7H360.50V172.2H360.75V172.8H361.00V172.4H361.25V173.2H361.50V174.9H361.75V174.4H362.00V174.3H362.25V176.6H362.50V175.0H362.75V173.6H363.00V171.9H363.25V169.3H363.50V168.7H363.75V174.7H364.00V174.5H364.25V174.9H364.50V172.5H364.75V174.2H365.00H365.25V176.0H365.50V174.8H365.75V174.4H366.00V173.8H366.25V171.0H366.50V171.9H366.75V171.6H367.00V174.9H367.25V175.0H367.50V175.3H367.75V175.9H368.00V175.7H368.25V169.7H368.50V172.0H368.75V170.8H369.00H369.25V176.0H369.50V175.9H369.75V173.4H370.00V171.0H370.25V169.3H370.50V172.2H370.75V173.0H371.00V174.5H371.25V173.8H371.50V175.3H371.75V176.8H372.00V178.2H372.25V177.3H372.50V172.8H372.75V173.3H373.00V176.4H373.25V175.2H373.50V174.5H373.75V174.4H374.00V169.7H374.25V173.8H374.50V174.7H374.75V172.5H375.00V171.3H375.25V172.8H375.50V173.8H375.75V172.1H376.00H376.25V171.3H376.50V174.6H376.75V176.4H377.00V176.5H377.25V173.0H377.50V170.7H377.75V174.1H378.00V173.2H378.25V171.7H378.50V173.8H378.75V173.0H379.00H379.25V174.3H379.50V174.1H379.75V173.1H380.00V170.9H380.25V171.6H380.50V170.9H380.75V170.7H381.00V169.3H381.25V170.2H381.50V172.1H381.75V173.5H382.00V174.6H382.25V173.4H382.50V171.8H382.75V167.7H383.00V174.3H383.25V171.8H383.50V178.2H383.75V171.7H384.00V174.1H384.25V175.7H384.50V172.1H384.75V172.5H385.00V172.7H385.25V174.7H385.50V172.3H385.75V171.4H386.00V173.7H386.25V174.7H386.50V171.7H386.75V172.9H387.00V171.7H387.25V170.1H387.50V170.9H387.75V172.6H388.00V172.3H388.25V175.1H388.50V173.8H388.75V173.5H389.00V171.5H389.25V174.4H389.50V175.0H389.75V172.1H390.00V171.7H390.25V170.5H390.50V175.5H390.75V174.2H391.00V172.0H391.25V170.8H391.50V171.5H391.75V169.7H392.00V170.7H392.25V172.6H392.50V174.3H392.75V170.9H393.00V170.6H393.25V172.0H393.50V171.8H393.75V172.5H394.00V170.5H394.25V169.8H394.50V171.0H394.75V169.2H395.00V170.7H395.25V173.8H395.50V173.0H395.75V168.5H396.00V167.1H396.25V165.0H396.50V167.4H396.75V171.5H397.00V171.8H397.25V168.6H397.50V169.9H397.75V173.2H398.00V171.2H398.25V169.9H398.50V169.2H398.75H399.00V167.0H399.25V166.5H399.50V168.2H399.75V169.3H400.00V170.8H400.25V171.2H400.50V171.6H400.75V170.9H401.00V169.4H401.25V169.7H401.50V169.2H401.75V168.8H402.00V168.4H402.25V168.7H402.50V169.3H402.75V173.1H403.00V169.2H403.25V168.0H403.50V170.1H403.75V169.8H404.00V170.3H404.25V168.6H404.50V169.1H404.75V167.5H405.00V168.4H405.25V165.9H405.50V167.4H405.75V170.7H406.00V168.6H406.25V167.7H406.50V166.6H406.75V169.6H407.00V164.0H407.25V164.6H407.50V166.3H407.75V170.3H408.00V168.4H408.25H408.50V165.2H408.75V164.6H409.00V166.9H409.25V166.6H409.50V165.9H409.75V164.8H410.00V168.3H410.25V169.2H410.50V166.6H410.75V167.3H411.00V165.9H411.25V167.7H411.50V166.8H411.75V163.6H412.00V168.6H412.25V169.8H412.50V167.9H412.75V166.9H413.00V163.0H413.25V162.9H413.50V164.0H413.75V167.2H414.00V167.4H414.25H414.50V164.4H414.75V162.4H415.00V168.3H415.25V164.8H415.50V163.8H415.75V166.2H416.00V161.9H416.25V163.8H416.50V164.8H416.75V165.5H417.00V163.7H417.25V161.9H417.50V161.6H417.75V163.2H418.00V161.6H418.25V160.8H418.50V159.2H418.75V161.5H419.00V163.6H419.25V162.1H419.50V161.7H419.75V162.5H420.00V159.3H420.25V158.5H420.50V161.6H420.75V162.8H421.00V163.9H421.25V163.3H421.50V161.4H421.75V163.4H422.00V162.5H422.25V161.6H422.50V158.5H422.75V159.4H423.00V161.0H423.25V162.0H423.50V161.6H423.75V162.1H424.00V158.5H424.25V160.7H424.50V159.7H424.75V160.8H425.00V159.1H425.25V162.1H425.50V158.2H425.75V159.3H426.00V155.9H426.25V157.2H426.50V156.8H426.75V157.1H427.00V161.6H427.25V159.0H427.50V160.4H427.75V159.2H428.00V156.4H428.25V156.0H428.50V153.2H428.75V154.7H429.00V159.0H429.25V159.2H429.50V161.3H429.75V156.5H430.00V156.1H430.25V159.9H430.50V159.0H430.75V157.6H431.00V159.7H431.25V156.9H431.50V158.0H431.75V155.0H432.00V157.6H432.25V155.0H432.50V155.5H432.75V157.7H433.00V158.0H433.25V157.5H433.50V158.0H433.75V158.5H434.00V156.0H434.25V156.4H434.50V158.4H434.75V157.2H435.00V155.3H435.25V155.0H435.50V153.7H435.75V152.5H436.00V155.0H436.25V155.6H436.50V155.7H436.75V156.0H437.00V153.8H437.25V150.9H437.50V149.7H437.75V152.0H438.00V152.7H438.25V154.8H438.50V153.2H438.75V154.8H439.00V155.6H439.25V156.7H439.50V151.0H439.75V151.2H440.00V151.5H440.25V152.2H440.50V153.6H440.75V154.3H441.00V153.0H441.25V153.1H441.50V152.6H441.75V148.3H442.00V150.9H442.25V148.4H442.50V151.2H442.75V149.9H443.00V149.8H443.25V154.4H443.50V155.0H443.75V153.7H444.00H444.25V151.2H444.50V152.6H444.75V152.2H445.00V149.8H445.25V147.4H445.50V147.9H445.75V147.7H446.00V147.6H446.25V150.0H446.50V151.4H446.75V151.6H447.00V150.1H447.25V150.0H447.50V149.3H447.75V149.0H448.00V151.0H448.25V150.0H448.50V149.3H448.75V147.9H449.00V148.5H449.25V146.5H449.50V148.0H449.75V147.5H450.00V143.7H450.25V145.2H450.50V146.4H450.75V147.6H451.00V148.2H451.25V148.4H451.50V143.4H451.75V140.9H452.00V142.6H452.25V147.0H452.50V146.7H452.75V148.8H453.00V146.4H453.25V149.8H453.50V146.7H453.75V150.5H454.00V148.7H454.25V148.8H454.50V144.5H454.75V142.8H455.00V143.4H455.25V142.5H455.50V143.9H455.75V143.4H456.00V145.1H456.25V144.1H456.50V143.5H456.75V141.9H457.00V146.6H457.25V149.0H457.50V148.1H457.75V145.8H458.00V142.4H458.25V143.1H458.50V140.3H458.75V141.4H459.00V142.6H459.25V142.8H459.50V143.0H459.75V141.6H460.00V142.8H460.25V145.6H460.50V142.8H460.75V141.5H461.00V140.1H461.25V141.8H461.50V140.0H461.75V140.5H462.00V143.4H462.25V142.2H462.50V143.9H462.75V142.2H463.00V141.9H463.25V136.9H463.50V137.7H463.75V141.2H464.00V140.3H464.25V138.8H464.50V137.9H464.75V140.9H465.00V137.6H465.25V137.5H465.50V139.5H465.75V135.5H466.00V133.3H466.25H466.50V134.6H466.75V139.1H467.00V136.1H467.25V137.4H467.50V137.5H467.75V136.6H468.00V135.5H468.25V135.2H468.50V136.3H468.75V137.7H469.00V133.8H469.25V134.9H469.50V133.2H469.75V136.5H470.00V135.0H470.25V135.4H470.50V133.3H470.75V137.4H471.00V134.6H471.25V131.7H471.50V135.9H471.75V134.5H472.00V136.6H472.25V134.7H472.50V138.6H472.75V135.0H473.00V135.4H473.25V133.4H473.50V135.9H473.75V135.5H474.00V137.2H474.25V133.5H474.50V136.7H474.75V137.2H475.00V136.0H475.25V134.2H475.50V130.8H475.75V133.5H476.00V136.1H476.25V138.2H476.50V137.9H476.75V137.6H477.00V139.2H477.25V138.4H477.50V136.4H477.75V135.8H478.00V138.5H478.25V136.2H478.50V137.5H478.75V136.4H479.00V134.9H479.25V136.3H479.50V135.5H479.75V137.3H480.00V142.1H480.25V142.9H480.50V144.9H480.75V142.3H481.00V139.7H481.25V143.1H481.50V143.4H481.75V145.8H482.00V144.7H482.25H482.50V146.8H482.75V146.0H483.00V145.3H483.25V143.0H483.50V143.5H483.75V147.2H484.00V146.1H484.25V147.0H484.50V145.4H484.75V149.3H485.00V148.5H485.25V151.5H485.50V152.9H485.75V154.7H486.00V152.0H486.25V152.3H486.50V152.7H486.75H487.00V153.7H487.25V154.9H487.50V155.9H487.75V153.7H488.00V154.3H488.25V155.6H488.50V159.3H488.75V158.9H489.00V157.2H489.25V159.9H489.50H489.75V157.8H490.00V160.4H490.25V160.3H490.50V161.0H490.75V165.7H491.00V163.6H491.25V162.4H491.50V161.6H491.75V160.6H492.00V167.4H492.25V163.4H492.50V164.6H492.75V161.0H493.00V165.4H493.25V163.6H493.50V167.2H493.75V164.2H494.00V166.7H494.25V166.8H494.50V167.6H494.75V168.4H495.00V168.6H495.25V167.7H495.50V168.5H495.75V167.2H496.00V168.8H496.25V167.6H496.50V169.1H496.75V171.7H497.00V174.9H497.25V170.2H497.50V172.0H497.75V172.5H498.00V174.4H498.25V173.3H498.50V174.4H498.75V174.5H499.00V174.8H499.25V176.7H499.50V176.2H499.75V173.8H500.00V172.3H500.25V174.7H500.50V174.9H500.75V174.0H501.00V178.1H501.25V178.6H501.50V179.0H501.75V177.9H502.00V177.0H502.25V177.7H502.50V179.9H502.75V179.4H503.00V179.8H503.25V181.2H503.50V182.3H503.75V182.9H504.00V182.0H504.25V180.3H504.50V182.3H504.75V182.8H505.00V184.6H505.25V182.2H505.50V185.9H505.75V189.4H506.00V186.5H506.25V185.7H506.50V185.0H506.75V187.6H507.00V187.0H507.25V187.2H507.50V186.8H507.75V187.6H508.00V186.9H508.25V189.3H508.50V186.9H508.75V187.7H509.00V186.2H509.25V188.1H509.50V189.8H509.75V193.3H510.00V196.6H510.25V196.9H510.50V193.6H510.75V192.9H511.00V194.2H511.25V194.7H511.50V195.2H511.75V192.8H512.00V193.6H512.25V194.2H512.50V197.7H512.75V195.1H513.00V196.9H513.25V197.5H513.50V199.9H513.75V197.5H514.00V200.0H514.25V198.4H514.50V200.5H514.75V199.7H515.00V199.0H515.25V200.6H515.50V204.2H515.75V202.7H516.00V203.7H516.25V202.2H516.50V204.0H516.75V203.5H517.00V204.7H517.25V201.8H517.50V208.6H517.75V204.6H518.00V203.9H518.25V202.2H518.50V206.4H518.75V205.4H519.00V205.0H519.25V202.7H519.50V202.1H519.75V204.1H520.00V203.8H520.25V204.5H520.50V206.0H520.75V205.1H521.00V208.3H521.25V207.6H521.50V208.1H521.75V203.9H522.00V203.7H522.25V204.4H522.50V208.6H522.75V206.3H523.00V205.1H523.25V207.9H523.50V205.6H523.75V207.6H524.00V207.3H524.25V204.2H524.50V205.4H524.75V204.6H525.00V205.7H525.25V207.9H525.50V204.3H525.75V203.2H526.00V202.4H526.25V207.3H526.50V205.2H526.75V206.7H527.00V205.3H527.25V203.2H527.50V204.2H527.75V205.5H528.00V207.0H528.25V206.9H528.50V203.4H528.75V203.5H529.00V201.3H529.25V202.2H529.50V205.4H529.75V203.8H530.00V199.8H530.25V202.3H530.50V203.8H530.75V202.0H531.00V202.2H531.25V204.1H531.50V201.7H531.75V201.6H532.00V200.9H532.25V203.4H532.50V204.5H532.75V205.9H533.00V204.1H533.25V202.3H533.50V200.7H533.75V198.0H534.00V197.9H534.25V199.0H534.50V200.7H534.75V201.9H535.00V311.5H534.75V315.3H534.50V311.6H534.25V311.4H534.00V315.3H533.75V313.2H533.50V315.3H533.25V314.6H533.00V312.5H532.75V315.3H532.50H532.25H532.00H531.75V314.9H531.50V315.3H531.25H531.00V303.0H530.75V299.4H530.50V302.1H530.25V302.6H530.00V296.1H529.75V303.5H529.50V304.0H529.25V300.1H529.00V309.6H528.75V311.3H528.50V304.8H528.25V315.3H528.00H527.75H527.50H527.25H527.00H526.75H526.50V298.8H526.25V297.8H526.00V315.3H525.75H525.50V296.3H525.25V299.9H525.00V296.8H524.75V309.3H524.50V311.3H524.25V308.4H524.00V315.3H523.75H523.50H523.25H523.00H522.75V293.3H522.50V292.7H522.25V288.4H522.00V294.6H521.75V292.3H521.50V301.7H521.25V306.7H521.00V309.6H520.75V308.5H520.50V292.6H520.25V293.4H520.00V291.7H519.75V294.5H519.50V288.8H519.25V296.8H519.00V295.9H518.75V291.7H518.50V294.6H518.25V290.0H518.00V293.3H517.75V291.5H517.50V298.3H517.25V292.3H517.00V289.7H516.75V315.3H516.50V286.4H516.25V287.9H516.00V288.0H515.75H515.50V302.4H515.25V299.0H515.00V287.9H514.75V290.9H514.50V288.2H514.25V289.5H514.00V288.8H513.75V289.8H513.50V290.1H513.25V287.7H513.00V287.3H512.75V307.9H512.50V306.7H512.25V280.7H512.00V280.4H511.75V284.3H511.50V286.3H511.25V279.7H511.00V285.1H510.75V315.3H510.50H510.25H510.00V274.7H509.75V277.5H509.50V274.0H509.25V271.7H509.00V275.9H508.75V282.4H508.50V282.9H508.25V279.3H508.00V276.1H507.75V270.5H507.50V276.5H507.25V277.2H507.00V278.5H506.75V275.2H506.50V277.8H506.25V272.9H506.00V268.8H505.75V269.9H505.50V270.9H505.25V292.4H505.00V274.9H504.75V266.9H504.50V266.6H504.25V268.8H504.00V272.5H503.75V266.1H503.50V269.4H503.25V268.2H503.00V267.6H502.75V285.7H502.50V282.6H502.25V263.6H502.00V266.5H501.75V263.9H501.50V271.0H501.25V268.2H501.00V267.0H500.75V261.7H500.50V303.5H500.25V298.2H500.00V302.8H499.75V303.0H499.50V270.4H499.25V289.3H499.00V292.0H498.75V289.3H498.50V293.0H498.25V290.8H498.00V273.7H497.75V260.6H497.50V259.4H497.25V311.9H497.00V309.0H496.75V309.2H496.50V297.0H496.25V293.3H496.00V265.9H495.75V264.1H495.50V275.2H495.25V265.6H495.00V260.7H494.75V278.2H494.50V272.0H494.25V276.2H494.00V274.1H493.75V268.3H493.50V265.1H493.25V257.5H493.00V257.1H492.75V273.4H492.50V259.6H492.25V304.4H492.00V255.1H491.75V258.4H491.50V255.7H491.25V249.5H491.00V251.8H490.75V258.5H490.50V263.7H490.25V261.7H490.00V243.6H489.75V274.4H489.50V272.8H489.25V246.5H489.00V253.3H488.75V256.2H488.50V252.5H488.25V265.6H488.00V269.6H487.75V264.1H487.50V251.5H487.25V248.7H487.00V243.5H486.75V256.3H486.50H486.25V255.6H486.00V256.5H485.75V251.0H485.50V251.4H485.25V252.1H485.00V250.4H484.75V253.9H484.50V240.9H484.25V243.1H484.00V247.0H483.75V237.9H483.50V247.6H483.25V241.0H483.00V238.3H482.75V241.9H482.50V235.8H482.25V238.8H482.00V283.8H481.75V281.6H481.50V283.2H481.25V234.9H481.00V234.3H480.75V234.0H480.50V233.3H480.25V239.5H480.00V239.3H479.75V234.2H479.50V241.7H479.25V262.1H479.00V265.5H478.75V264.0H478.50V232.6H478.25V228.8H478.00V231.2H477.75V227.1H477.50V235.1H477.25V235.2H477.00V236.1H476.75V239.9H476.50V236.4H476.25V236.1H476.00V227.3H475.75V224.4H475.50V221.9H475.25V224.2H475.00V221.7H474.75V225.2H474.50V233.1H474.25V233.7H474.00V237.0H473.75V230.6H473.50V231.6H473.25V231.1H473.00V226.5H472.75V229.3H472.50V228.6H472.25V226.3H472.00V227.6H471.75V220.5H471.50V223.9H471.25V217.5H471.00V220.6H470.75V222.1H470.50V218.4H470.25V227.7H470.00V227.0H469.75V225.2H469.50V224.2H469.25V217.4H469.00V220.9H468.75V221.5H468.50V227.5H468.25V220.9H468.00V223.6H467.75V228.7H467.50V231.8H467.25V231.0H467.00V235.3H466.75V229.2H466.50V233.4H466.25V225.3H466.00V254.6H465.75V251.5H465.50V256.6H465.25V254.1H465.00V226.7H464.75V222.6H464.50V225.3H464.25V223.2H464.00V217.8H463.75V224.3H463.50V222.4H463.25V226.4H463.00V227.1H462.75V225.3H462.50V224.6H462.25V227.6H462.00V225.8H461.75V229.6H461.50V226.5H461.25V223.0H461.00V221.5H460.75V218.0H460.50V226.2H460.25V223.2H460.00V222.6H459.75V221.1H459.50V224.0H459.25V219.8H459.00V220.7H458.75V221.9H458.50V226.4H458.25V227.6H458.00V220.9H457.75V220.5H457.50V222.7H457.25V224.3H457.00V226.0H456.75V252.3H456.50V226.0H456.25V219.9H456.00V220.9H455.75V215.7H455.50V221.3H455.25V227.4H455.00V221.8H454.75V223.5H454.50V220.5H454.25V272.4H454.00V273.9H453.75V249.6H453.50V252.3H453.25V223.6H453.00V230.6H452.75H452.50V233.9H452.25V226.7H452.00V231.6H451.75V221.3H451.50V230.0H451.25V220.8H451.00V222.3H450.75V227.3H450.50V227.2H450.25V272.3H450.00V273.3H449.75V275.9H449.50V277.8H449.25V269.7H449.00V274.7H448.75V237.7H448.50V229.1H448.25V232.6H448.00V230.1H447.75V218.8H447.50V239.3H447.25V240.6H447.00V240.9H446.75V234.8H446.50V232.9H446.25V227.4H446.00V224.4H445.75V230.8H445.50V230.4H445.25V230.3H445.00V228.3H444.75V229.1H444.50V228.7H444.25V223.7H444.00V222.2H443.75V226.1H443.50V227.1H443.25V229.5H443.00V229.7H442.75V251.5H442.50V252.0H442.25V253.8H442.00V235.4H441.75V238.9H441.50V236.6H441.25V235.7H441.00V240.8H440.75V241.9H440.50V230.9H440.25V231.6H440.00V231.2H439.75V234.9H439.50V229.5H439.25V231.3H439.00V227.2H438.75V239.6H438.50V246.1H438.25V243.8H438.00H437.75V240.3H437.50V249.4H437.25V242.8H437.00V245.8H436.75V249.0H436.50V234.8H436.25V237.4H436.00V265.0H435.75V261.6H435.50V261.4H435.25V262.5H435.00V230.0H434.75V231.3H434.50V235.7H434.25V237.1H434.00V233.1H433.75V236.4H433.50V233.8H433.25V237.5H433.00V238.3H432.75V232.7H432.50V279.4H432.25V282.3H432.00V279.5H431.75V281.3H431.50V277.9H431.25V257.4H431.00V238.8H430.75V235.6H430.50V261.9H430.25V262.5H430.00V260.0H429.75V263.4H429.50V262.2H429.25V255.5H429.00V231.6H428.75V236.9H428.50V230.3H428.25V233.9H428.00V235.7H427.75V226.9H427.50V231.4H427.25V234.1H427.00V236.9H426.75V241.7H426.50V284.2H426.25V286.5H426.00V278.9H425.75V285.9H425.50V289.0H425.25V273.6H425.00V277.6H424.75V277.8H424.50V266.0H424.25V260.7H424.00V236.4H423.75V236.6H423.50V232.1H423.25V244.6H423.00V243.6H422.75V245.4H422.50V244.2H422.25V243.1H422.00V250.1H421.75V238.3H421.50V245.5H421.25V246.2H421.00V247.1H420.75V245.4H420.50V235.6H420.25V237.7H420.00V236.3H419.75V240.4H419.50V232.3H419.25V253.0H419.00V239.6H418.75V240.7H418.50V247.0H418.25V236.5H418.00V242.8H417.75V271.8H417.50V274.3H417.25V240.8H417.00V244.5H416.75V239.6H416.50V237.8H416.25V246.2H416.00V257.0H415.75V257.8H415.50V258.9H415.25V242.5H415.00V238.5H414.75V240.5H414.50V252.8H414.25V252.7H414.00V250.5H413.75V251.2H413.50V252.0H413.25V247.3H413.00V257.2H412.75V258.3H412.50V259.9H412.25V257.0H412.00V261.0H411.75V243.3H411.50V248.8H411.25V249.5H411.00V245.8H410.75V246.7H410.50V264.3H410.25V265.0H410.00V260.0H409.75V237.3H409.50V236.7H409.25V237.1H409.00V241.6H408.75V249.7H408.50V247.6H408.25V243.4H408.00V267.3H407.75V247.9H407.50V241.6H407.25V242.1H407.00V244.6H406.75V239.6H406.50V250.6H406.25V250.2H406.00V255.3H405.75V250.8H405.50V253.8H405.25V246.4H405.00V250.5H404.75V252.6H404.50V253.2H404.25V255.5H404.00V253.0H403.75V253.8H403.50V254.6H403.25V252.4H403.00V253.9H402.75V255.2H402.50V255.0H402.25V248.9H402.00V252.4H401.75V250.8H401.50V248.9H401.25V252.8H401.00V247.2H400.75V258.5H400.50V257.2H400.25V279.3H400.00V241.5H399.75V238.6H399.50V244.9H399.25V242.5H399.00V245.9H398.75V250.1H398.50V244.9H398.25V246.0H398.00V247.9H397.75V252.5H397.50V252.0H397.25V269.3H397.00V258.5H396.75V256.2H396.50V253.6H396.25V253.8H396.00V254.9H395.75V253.1H395.50V252.2H395.25V246.5H395.00V250.1H394.75H394.50V250.5H394.25V249.8H394.00V242.1H393.75V249.3H393.50V254.5H393.25V287.8H393.00V251.4H392.75V295.4H392.50V295.5H392.25V298.0H392.00V292.5H391.75V246.1H391.50V268.4H391.25V266.9H391.00V267.5H390.75V267.2H390.50V264.5H390.25V249.8H390.00V246.6H389.75V250.4H389.50V251.1H389.25V248.9H389.00V251.7H388.75V249.5H388.50V246.1H388.25V257.0H388.00V258.4H387.75V259.5H387.50V258.3H387.25V236.9H387.00V245.5H386.75V248.6H386.50V248.3H386.25V254.9H386.00V253.1H385.75V254.2H385.50V250.9H385.25V252.2H385.00V251.2H384.75V249.3H384.50V244.8H384.25V296.3H384.00V292.4H383.75V294.9H383.50V294.8H383.25V281.0H383.00V283.9H382.75V280.4H382.50V286.4H382.25V252.3H382.00V250.4H381.75V254.9H381.50V256.4H381.25V255.4H381.00V254.2H380.75V255.4H380.50V247.4H380.25V249.1H380.00V254.4H379.75V253.9H379.50V256.0H379.25V253.8H379.00V255.3H378.75V248.9H378.50V251.4H378.25V249.8H378.00V254.0H377.75V249.8H377.50V250.4H377.25V248.8H377.00V247.2H376.75V261.6H376.50V262.5H376.25V262.4H376.00V256.8H375.75V259.6H375.50V258.2H375.25V259.5H375.00V259.9H374.75V262.2H374.50V258.7H374.25V255.8H374.00V256.8H373.75V253.9H373.50V234.0H373.25V243.5H373.00V271.4H372.75V273.5H372.50H372.25V295.2H372.00V291.9H371.75V243.6H371.50V243.8H371.25V245.1H371.00V249.0H370.75V245.0H370.50V245.6H370.25V250.0H370.00V253.7H369.75V249.7H369.50V253.1H369.25V249.7H369.00V264.9H368.75V269.9H368.50V265.4H368.25H368.00V252.6H367.75V252.3H367.50V254.4H367.25V250.3H367.00V250.2H366.75V248.1H366.50V290.5H366.25V291.6H366.00V292.8H365.75V293.5H365.50V248.1H365.25V245.8H365.00V249.6H364.75V254.3H364.50V254.2H364.25V252.9H364.00V250.9H363.75V267.4H363.50H363.25V247.0H363.00V243.0H362.75V245.8H362.50V241.7H362.25V245.3H362.00V242.0H361.75V245.9H361.50V254.3H361.25V257.4H361.00V291.4H360.75V292.0H360.50V293.3H360.25V292.0H360.00V253.6H359.75V251.8H359.50V251.5H359.25V253.8H359.00V255.9H358.75V253.3H358.50V254.6H358.25V240.5H358.00V246.7H357.75V258.5H357.50V250.0H357.25V252.0H357.00V254.8H356.75V249.4H356.50V244.5H356.25V254.1H356.00V252.9H355.75V250.8H355.50V250.4H355.25V244.7H355.00V248.7H354.75V243.5H354.50V260.4H354.25V248.9H354.00V245.0H353.75V242.5H353.50V248.4H353.25V240.2H353.00V244.0H352.75V247.1H352.50V293.4H352.25V290.7H352.00V265.7H351.75V265.6H351.50V241.1H351.25V243.6H351.00V243.5H350.75V247.7H350.50V243.9H350.25V252.0H350.00V244.3H349.75V247.4H349.50V243.6H349.25V247.1H349.00V250.5H348.75V251.2H348.50V253.3H348.25V246.8H348.00V248.1H347.75V247.4H347.50V248.1H347.25V249.0H347.00V248.4H346.75V249.0H346.50V240.4H346.25V244.5H346.00V244.7H345.75V250.7H345.50V267.0H345.25V267.9H345.00V268.1H344.75V241.4H344.50V246.8H344.25V242.4H344.00V239.9H343.75V241.2H343.50V241.3H343.25V243.9H343.00V244.8H342.75V239.3H342.50V242.7H342.25V243.4H342.00V241.8H341.75V241.3H341.50V240.1H341.25V238.6H341.00V240.9H340.75V243.2H340.50V259.9H340.25V265.1H340.00V248.4H339.75V239.5H339.50V244.8H339.25V242.6H339.00V239.7H338.75V249.7H338.50V248.6H338.25V248.3H338.00V243.9H337.75V243.9H337.50V239.9H337.25V245.0H337.00V248.0H336.75V247.7H336.50V276.6H336.25V241.1H336.00V239.5H335.75V239.6H335.50V243.1H335.25V253.4H335.00V256.5H334.75V258.1H334.50V265.0H334.25V267.9H334.00V265.3H333.75V249.3H333.50V245.4H333.25V270.0H333.00V268.3H332.75V267.7H332.50V265.6H332.25V269.2H332.00V245.1H331.75V246.1H331.50V245.8H331.25V244.5H331.00V236.2H330.75V231.9H330.50V258.5H330.25V257.4H330.00V254.1H329.75V259.0H329.50V237.7H329.25V235.5H329.00V238.7H328.75V240.1H328.50V238.6H328.25V240.9H328.00V240.5H327.75V243.0H327.50V238.9H327.25V235.6H327.00V239.4H326.75V247.3H326.50V246.9H326.25V243.3H326.00V244.1H325.75V244.8H325.50V236.3H325.25V237.6H325.00V234.0H324.75V232.2H324.50V227.8H324.25V231.3H324.00V229.6H323.75V231.7H323.50V235.1H323.25V233.1H323.00V237.0H322.75V233.2H322.50V233.0H322.25V231.8H322.00V234.4H321.75V240.4H321.50V243.7H321.25V236.9H321.00V236.3H320.75V235.9H320.50V235.5H320.25V227.7H320.00V232.9H319.75V231.1H319.50V237.4H319.25V234.0H319.00V228.3H318.75V231.3H318.50V222.4H318.25V226.2H318.00V239.7H317.75V226.3H317.50V227.1H317.25V225.7H317.00V222.4H316.75V224.9H316.50V225.6H316.25V228.8H316.00V225.6H315.75V226.7H315.50V228.5H315.25V229.9H315.00V251.9H314.75V250.3H314.50V250.8H314.25V225.5H314.00V222.9H313.75V232.3H313.50V226.0H313.25V234.4H313.00V240.2H312.75V229.6H312.50V227.4H312.25V222.0H312.00H311.75V251.5H311.50V255.9H311.25V224.7H311.00V253.7H310.75V223.1H310.50V241.9H310.25V222.9H310.00V223.1H309.75V223.8H309.50V217.9H309.25V222.2H309.00V220.5H308.75V229.8H308.50V231.0H308.25V230.5H308.00V227.0H307.75V225.4H307.50V224.2H307.25V222.8H307.00V224.3H306.75V232.4H306.50V232.0H306.25V233.4H306.00V227.5H305.75V228.9H305.50V221.7H305.25V221.7H305.00V224.9H304.75V223.7H304.50V225.5H304.25V220.4H304.00V221.3H303.75V223.7H303.50V223.2H303.25V224.3H303.00V225.6H302.75V230.9H302.50V224.5H302.25V228.5H302.00V227.3H301.75V247.7H301.50V270.5H301.25V277.8H301.00V273.3H300.75V276.0H300.50V271.9H300.25V222.6H300.00V235.2H299.75V234.6H299.50V232.8H299.25V236.6H299.00V230.0H298.75V234.7H298.50V252.0H298.25V247.7H298.00V250.8H297.75V223.8H297.50V224.9H297.25V219.3H297.00V246.0H296.75V247.2H296.50V243.8H296.25V246.2H296.00V244.6H295.75V223.6H295.50V228.9H295.25V220.6H295.00V242.4H294.75V250.1H294.50V245.7H294.25V247.5H294.00V247.8H293.75H293.50V217.6H293.25V220.1H293.00V228.9H292.75V231.6H292.50V239.3H292.25V233.2H292.00V234.7H291.75V226.0H291.50V224.1H291.25V219.0H291.00V224.9H290.75V222.9H290.50V264.4H290.25V265.0H290.00V263.6H289.75V266.1H289.50V266.1H289.25V222.5H289.00V224.8H288.75V220.5H288.50V223.0H288.25V217.1H288.00V215.1H287.75V240.2H287.50V238.1H287.25V239.1H287.00V269.0H286.75V241.5H286.50V216.4H286.25V220.5H286.00V226.1H285.75V232.0H285.50V228.3H285.25V226.1H285.00V240.9H284.75V238.6H284.50V243.7H284.25V217.5H284.00V219.7H283.75V221.5H283.50V217.8H283.25V240.3H283.00V242.3H282.75V242.9H282.50V242.5H282.25V216.9H282.00V229.8H281.75V231.9H281.50V222.2H281.25H281.00V226.4H280.75V244.5H280.50V231.3H280.25V232.0H280.00V229.8H279.75V227.7H279.50V225.9H279.25V223.3H279.00V218.5H278.75V222.5H278.50V217.5H278.25V219.3H278.00V222.8H277.75V225.4H277.50V225.5H277.25V226.6H277.00V225.5H276.75V222.9H276.50V234.1H276.25V248.6H276.00V247.9H275.75V252.8H275.50V249.8H275.25V250.5H275.00H274.75V252.7H274.50V236.8H274.25V231.9H274.00V233.9H273.75V221.6H273.50V219.7H273.25V223.2H273.00V221.8H272.75V223.7H272.50V224.9H272.25V222.8H272.00V226.4H271.75V226.7H271.50V235.1H271.25V237.4H271.00V235.7H270.75V234.2H270.50V230.4H270.25V230.7H270.00V230.9H269.75V227.9H269.50V289.9H269.25V289.2H269.00V290.0H268.75V294.4H268.50V290.9H268.25V239.8H268.00V236.5H267.75V242.3H267.50V238.4H267.25V238.1H267.00V231.6H266.75V268.2H266.50V226.2H266.25H266.00V256.0H265.75V252.8H265.50V256.3H265.25V232.3H265.00V228.9H264.75V229.8H264.50V227.6H264.25V225.3H264.00V245.7H263.75V227.5H263.50V231.6H263.25V227.5H263.00V252.0H262.75V246.8H262.50V244.3H262.25V247.9H262.00V247.8H261.75V243.2H261.50V224.8H261.25V225.5H261.00V221.0H260.75V224.2H260.50V219.0H260.25V225.5H260.00V252.5H259.75V255.9H259.50V250.9H259.25V252.1H259.00V255.6H258.75V230.8H258.50V229.8H258.25V258.9H258.00V243.0H257.75V253.9H257.50V253.9H257.25V249.6H257.00V249.7H256.75V237.6H256.50V239.7H256.25V243.6H256.00V240.0H255.75V226.6H255.50V227.9H255.25V230.5H255.00V262.4H254.75V259.2H254.50V259.5H254.25V222.9H254.00H253.75V269.7H253.50V227.6H253.25V227.7H253.00V229.5H252.75V232.4H252.50V229.4H252.25V229.3H252.00V226.1H251.75V231.4H251.50V225.3H251.25V225.7H251.00V223.8H250.75V218.2H250.50V219.3H250.25V215.7H250.00V221.9H249.75V224.4H249.50V225.8H249.25V230.8H249.00V225.6H248.75V224.9H248.50V238.0H248.25V236.8H248.00V224.7H247.75V223.0H247.50V241.9H247.25V225.9H247.00V225.2H246.75V230.3H246.50V231.6H246.25V231.2H246.00V281.8H245.75V284.3H245.50V285.7H245.25V283.5H245.00V225.0H244.75V221.9H244.50V221.4H244.25V224.8H244.00V220.6H243.75V219.9H243.50V218.2H243.25V221.6H243.00V214.8H242.75V215.9H242.50V224.4H242.25V217.0H242.00V231.3H241.75V235.8H241.50V227.8H241.25V231.5H241.00V231.9H240.75V217.7H240.50V232.6H240.25V233.2H240.00V211.8H239.75V217.3H239.50V258.0H239.25V255.2H239.00V212.0H238.75V215.7H238.50V247.7H238.25V248.7H238.00V222.7H237.75V232.1H237.50V232.7H237.25V233.6H237.00V235.6H236.75V236.7H236.50V221.8H236.25V230.5H236.00V232.4H235.75V230.5H235.50V251.7H235.25V253.7H235.00V212.5H234.75V208.7H234.50V231.9H234.25V220.4H234.00V221.5H233.75V225.1H233.50V225.3H233.25V238.0H233.00V281.5H232.75V241.5H232.50V241.0H232.25V241.6H232.00V212.3H231.75V210.3H231.50V232.9H231.25V235.6H231.00V234.7H230.75V233.8H230.50V258.9H230.25V253.7H230.00V258.1H229.75V254.5H229.50V237.4H229.25V235.1H229.00V219.4H228.75V215.1H228.50V214.4H228.25V211.6H228.00V211.8H227.75V214.4H227.50V248.0H227.25V249.8H227.00V249.1H226.75H226.50V249.8H226.25V230.5H226.00H225.75V239.1H225.50V238.6H225.25V234.7H225.00V233.8H224.75V231.4H224.50V219.4H224.25V225.2H224.00V207.7H223.75V218.6H223.50V242.3H223.25V242.4H223.00V213.9H222.75V216.3H222.50V217.5H222.25V267.5H222.00V222.1H221.75V224.6H221.50V237.8H221.25V241.7H221.00V238.8H220.75V224.8H220.50V221.2H220.25V217.8H220.00V217.6H219.75V214.3H219.50V211.3H219.25V270.8H219.00V211.2H218.75V212.1H218.50V229.5H218.25V228.2H218.00V231.0H217.75V219.2H217.50V275.7H217.25V271.4H217.00V276.5H216.75V275.9H216.50V273.1H216.25V276.5H216.00V211.6H215.75V210.5H215.50V208.2H215.25V213.4H215.00V226.0H214.75V218.2H214.50V215.9H214.25V217.5H214.00V245.5H213.75V239.3H213.50V241.4H213.25V273.1H213.00V273.4H212.75V207.6H212.50V208.1H212.25V210.9H212.00V212.7H211.75V210.0H211.50V211.2H211.25V214.6H211.00V209.0H210.75V203.6H210.50V208.6H210.25V205.3H210.00V208.5H209.75V211.2H209.50V203.9H209.25V206.1H209.00V204.2H208.75V208.4H208.50V207.2H208.25V226.3H208.00V226.9H207.75V226.1H207.50V271.8H207.25H207.00V214.9H206.75V210.0H206.50V205.7H206.25V223.4H206.00V222.4H205.75V223.0H205.50V225.4H205.25V204.2H205.00V222.9H204.75V218.2H204.50V221.7H204.25V222.6H204.00V267.4H203.75V264.5H203.50V265.5H203.25V270.5H203.00V216.4H202.75V217.0H202.50V217.4H202.25V211.5H202.00V205.9H201.75V215.8H201.50V217.5H201.25V235.7H201.00V235.2H200.75V220.1H200.50V223.9H200.25V225.5H200.00V208.6H199.75V233.9H199.50V234.8H199.25V236.0H199.00V227.6H198.75V227.9H198.50V228.7H198.25V246.6H198.00V246.7H197.75V244.2H197.50V209.8H197.25V231.0H197.00V231.4H196.75V235.7H196.50V232.9H196.25V208.6H196.00V195.2H195.75V192.4H195.50V212.0H195.25V214.7H195.00V215.2H194.75V215.9H194.50V218.8H194.25V262.9H194.00V266.4H193.75V268.3H193.50V195.6H193.25V200.4H193.00V196.5H192.75V199.4H192.50V203.4H192.25V199.9H192.00V222.0H191.75V223.7H191.50V221.8H191.25V203.4H191.00V210.1H190.75V231.9H190.50V230.0H190.25V234.7H190.00V230.3H189.75V228.1H189.50V214.7H189.25V206.1H189.00V201.9H188.75V200.4H188.50V205.8H188.25V212.3H188.00V211.8H187.75V207.1H187.50V208.3H187.25V201.6H187.00V198.2H186.75V197.5H186.50V198.4H186.25V196.2H186.00V197.3H185.75V201.2H185.50V196.5H185.25V212.5H185.00V203.2H184.75V203.0H184.50V239.9H184.25V235.9H184.00V239.7H183.75V241.1H183.50V246.3H183.25V239.2H183.00V241.8H182.75V239.1H182.50V199.0H182.25V197.3H182.00V194.8H181.75V198.9H181.50V195.7H181.25V222.2H181.00V201.5H180.75V248.1H180.50V198.9H180.25V201.0H180.00V198.1H179.75V214.3H179.50V214.8H179.25V198.2H179.00V216.2H178.75V218.0H178.50V218.4H178.25V218.7H178.00V215.6H177.75V203.9H177.50V200.8H177.25V203.5H177.00V203.7H176.75V230.4H176.50V230.5H176.25V204.3H176.00V199.7H175.75V200.6H175.50V198.4H175.25V210.7H175.00V208.7H174.75V244.1H174.50V245.2H174.25V244.8H174.00V232.4H173.75V234.5H173.50V203.8H173.25V214.7H173.00V216.3H172.75V215.1H172.50V209.8H172.25V211.5H172.00V201.1H171.75V206.7H171.50V204.7H171.25V205.3H171.00V256.6H170.75V257.1H170.50V256.8H170.25V195.3H170.00V226.5H169.75V231.9H169.50V229.4H169.25V226.9H169.00V231.1H168.75V199.8H168.50V206.1H168.25V206.5H168.00V206.1H167.75V205.8H167.50V197.2H167.25V196.4H167.00V204.3H166.75V204.5H166.50V208.3H166.25V198.0H166.00V198.5H165.75V225.3H165.50V222.2H165.25V193.1H165.00V195.4H164.75V194.4H164.50V197.7H164.25V195.2H164.00V218.8H163.75V203.4H163.50H163.25V207.3H163.00V205.7H162.75V202.6H162.50V203.5H162.25V201.4H162.00V191.3H161.75V218.3H161.50V224.6H161.25V227.9H161.00V224.9H160.75V215.6H160.50V201.0H160.25V216.4H160.00V191.9H159.75V198.8H159.50V192.3H159.25V229.6H159.00V210.7H158.75V209.4H158.50V259.8H158.25V256.9H158.00V260.4H157.75V257.8H157.50V256.7H157.25V197.4H157.00V193.8H156.75V192.1H156.50V218.8H156.25V212.7H156.00V216.3H155.75V191.1H155.50V190.7H155.25V191.3H155.00V193.1H154.75V198.9H154.50V204.3H154.25V199.6H154.00V200.5H153.75V209.6H153.50V212.5H153.25V236.4H153.00V241.0H152.75V236.7H152.50V255.9H152.25V260.9H152.00V259.0H151.75V200.2H151.50V237.7H151.25V240.7H151.00V235.6H150.75V237.7H150.50V237.6H150.25V196.7H150.00V198.9H149.75V194.1H149.50V193.5H149.25V257.1H149.00V198.3H148.75V199.3H148.50V199.5H148.25V191.1H148.00V190.4H147.75V195.3H147.50V191.1H147.25V198.6H147.00V205.7H146.75V214.2H146.50V212.6H146.25V211.8H146.00V186.5H145.75V189.4H145.50V186.1H145.25V226.8H145.00V202.6H144.75V203.5H144.50V195.9H144.25V197.0H144.00V201.0H143.75V248.9H143.50V209.1H143.25V211.1H143.00V193.6H142.75V191.5H142.50V192.2H142.25V236.1H142.00V196.0H141.75V197.5H141.50V199.8H141.25V197.2H141.00V211.5H140.75V210.4H140.50V209.0H140.25V213.8H140.00V198.1H139.75V197.2H139.50V196.0H139.25V196.5H139.00V196.2H138.75V195.3H138.50V193.3H138.25V187.2H138.00V184.4H137.75V207.9H137.50V211.8H137.25V209.9H137.00V211.5H136.75V202.8H136.50V200.3H136.25V201.9H136.00V199.3H135.75V194.1H135.50V196.9H135.25V193.8H135.00V211.3H134.75V207.8H134.50V213.1H134.25V209.9H134.00V207.9H133.75V204.7H133.50V194.4H133.25V196.0H133.00V190.1H132.75V194.1H132.50V193.4H132.25V194.9H132.00V191.8H131.75V191.1H131.50V185.9H131.25V191.9H131.00V217.6H130.75V214.3H130.50V186.6H130.25V191.9H130.00V242.3H129.75V241.2H129.50V196.1H129.25V191.8H129.00V190.9H128.75V188.2H128.50V190.7H128.25V189.9H128.00V200.9H127.75V197.0H127.50V197.9H127.25V199.0H127.00V199.7H126.75V210.3H126.50V203.6H126.25V199.6H126.00V189.8H125.75V196.3H125.50V195.7H125.25V199.2H125.00V199.6H124.75V195.9H124.50V186.1H124.25V193.6H124.00V256.3H123.75V254.9H123.50V195.3H123.25V233.8H123.00V232.8H122.75V233.0H122.50V228.4H122.25V227.7H122.00V187.9H121.75V189.0H121.50V195.8H121.25V189.8H121.00V203.8H120.75V205.6H120.50V205.0H120.25V203.4H120.00V211.0H119.75V211.1H119.50V188.0H119.25V197.6H119.00V196.7H118.75V199.2H118.50V196.0H118.25V203.2H118.00V202.9H117.75V208.4H117.50V191.0H117.25V197.5H117.00V183.3H116.75V182.2H116.50V181.0H116.25V180.8H116.00V249.4H115.75V248.4H115.50V246.5H115.25V186.3H115.00V190.2H114.75V185.0H114.50V177.4H114.25V186.0H114.00V193.8H113.75V193.6H113.50V193.1H113.25V180.6H113.00V181.0H112.75V181.3H112.50V180.9H112.25V184.3H112.00V206.4H111.75V209.8H111.50V209.3H111.25V206.4H111.00V196.6H110.75V193.6H110.50V186.0H110.25V182.1H110.00H109.75V185.2H109.50V242.5H109.25V243.7H109.00V242.2H108.75V240.5H108.50V179.4H108.25V182.2H108.00V212.9H107.75V209.4H107.50V204.9H107.25V206.2H107.00V202.7H106.75V201.3H106.50V203.1H106.25V203.5H106.00V230.0H105.75V224.4H105.50V224.2H105.25V222.0H105.00V180.9H104.75V179.8H104.50V244.5H104.25V240.8H104.00V173.8H103.75V178.8H103.50V190.2H103.25V189.3H103.00V196.6H102.75V201.3H102.50V197.2H102.25V197.6H102.00V225.1H101.75V224.8H101.50V223.7H101.25V173.8H101.00V174.8H100.75V167.2H100.50V165.4H100.25V170.7H100.00V175.1H99.75V175.2H99.50V182.0H99.25V208.1H99.00V210.0H98.75V213.9H98.50V209.3H98.25V198.3H98.00V193.2H97.75H97.50V194.9H97.25V183.3H97.00V178.9H96.75V176.0H96.50V178.5H96.25V184.3H96.00V180.7H95.75V207.3H95.50V219.2H95.25V221.3H95.00V207.2H94.75V237.2H94.50V239.8H94.25V242.5H94.00V244.8H93.75V183.6H93.50V195.5H93.25V176.9H93.00V179.3H92.75V181.8H92.50V177.0H92.25V200.1H92.00V178.4H91.75V176.4H91.50V176.7H91.25V175.2H91.00V187.1H90.75V174.5H90.50V232.3H90.25V236.4H90.00V196.9H89.75V195.7H89.50V195.2H89.25V188.7H89.00V188.5H88.75V215.0H88.50V219.2H88.25V216.0H88.00V215.7H87.75V175.0H87.50V185.9H87.25V188.9H87.00V178.2H86.75V178.0H86.50V176.4H86.25V200.0H86.00V202.6H85.75V198.5H85.50V174.4H85.25V179.3H85.00V175.2H84.75V173.0H84.50V189.1H84.25V223.5H84.00V221.4H83.75V222.8H83.50V184.6H83.25V195.5H83.00V217.6H82.75V211.2H82.50V241.8H82.25V242.0H82.00V243.2H81.75V228.2H81.50V189.6H81.25V190.5H81.00V188.6H80.75V186.5H80.50V188.5H80.25V191.6H80.00V182.1H79.75V184.6H79.50V187.5H79.25V192.6H79.00V190.8H78.75V204.3H78.50V189.3H78.25V200.5H78.00V201.2H77.75V197.4H77.50V198.7H77.25V185.2H77.00V182.5H76.75V190.3H76.50V186.9H76.25V184.3H76.00V187.1H75.75V181.9H75.50V193.9H75.25V183.4H75.00V186.1H74.75V181.0H74.50V181.0H74.25V204.0H74.00V186.4H73.75V183.0H73.50V203.0H73.25V184.1H73.00V193.7H72.75V196.9H72.50V199.3H72.25V196.2H72.00V191.5H71.75V195.3H71.50V189.6H71.25V191.5H71.00V192.7H70.75V193.8H70.50V196.3H70.25V179.8H70.00V180.4H69.75V183.7H69.50V185.7H69.25H69.00V182.3H68.75V186.6H68.50V185.9H68.25V183.6H68.00V190.4H67.75V188.3H67.50H67.25V187.3H67.00V194.1H66.75V188.0H66.50V192.0H66.25V190.8H66.00V190.0H65.75V196.6H65.50V184.5H65.25V188.6H65.00V190.8H64.75V191.7H64.50V187.8H64.25V188.3H64.00V185.9H63.75V187.2H63.50V189.6H63.25V193.6H63.00V191.0H62.75V190.7H62.50Z" fill="#f00"/>
</g>
<g font-family="'Liberation Serif', 'DejaVu Serif', serif" font-size="18.5" fill="#000" stroke="#000" stroke-width="0.3">
<text x="55.2" y="301.0" text-anchor="end">−20</text><text x="55.2" y="261.2" text-anchor="end">0</text><text x="55.2" y="221.5" text-anchor="end">20</text><text x="55.2" y="181.7" text-anchor="end">40</text><text x="55.2" y="141.9" text-anchor="end">60</text><text x="55.2" y="102.1" text-anchor="end">80</text><text x="55.2" y="62.4" text-anchor="end">100</text><text x="55.2" y="22.6" text-anchor="end">120</text>
<text x="62.6" y="330.8" text-anchor="middle">150k</text><text x="168.6" y="330.8" text-anchor="middle">500k</text><text x="232.0" y="330.8" text-anchor="middle">1M</text><text x="376.0" y="330.8" text-anchor="middle">5M</text><text x="438.8" y="330.8" text-anchor="middle">10M</text><text x="526.0" y="330.8" text-anchor="middle">30M</text>
<text x="225.5" y="348.3" font-size="18" textLength="121" lengthAdjust="spacingAndGlyphs">Frequency <tspan font-style="italic">f</tspan>/Hz</text>
<text transform="translate(29.8 279.8) rotate(-90)" font-size="18" textLength="204.5" lengthAdjust="spacingAndGlyphs">CM EMI amplitude/dBμV</text>
</g>
<rect x="71.2" y="245.6" width="221.2" height="58.2" fill="#fff" stroke="#000" stroke-width="1.8"/>
<path d="M76.5 257.2H109.7" stroke="#000" stroke-width="4.6" stroke-linecap="round"/>
<path d="M76.5 283.6H109.7" stroke="#f00" stroke-width="4.6" stroke-linecap="round"/>
<g font-family="'Liberation Serif', 'DejaVu Serif', serif" font-size="16.5" fill="#000" stroke="#000" stroke-width="0.25">
<text x="117" y="261.3" textLength="93.5" lengthAdjust="spacingAndGlyphs">Original noise</text>
<text x="117" y="280.1" textLength="169.5" lengthAdjust="spacingAndGlyphs">AEF with PCFM-SVPWM</text>
<text x="117" y="297.6" textLength="130" lengthAdjust="spacingAndGlyphs">+ Class Y capacitors</text>
</g>
</svg></body></html>
